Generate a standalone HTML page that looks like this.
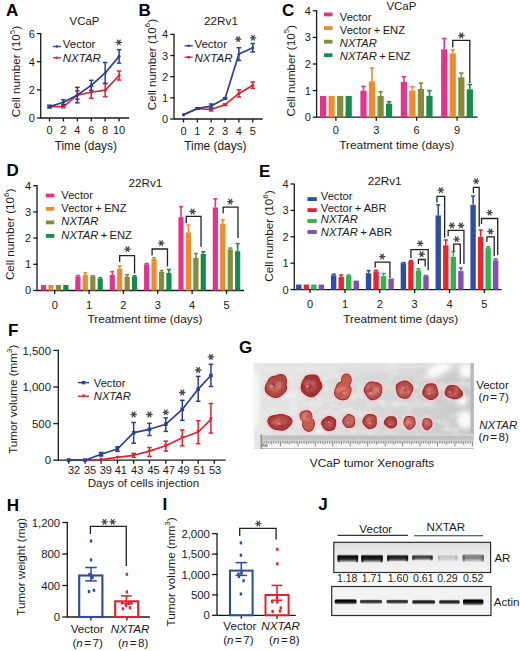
<!DOCTYPE html>
<html><head><meta charset="utf-8"><style>
html,body{margin:0;padding:0;background:#fff;}
svg{display:block;}
text{font-family:"Liberation Sans", sans-serif;}
</style></head><body>
<svg width="520" height="651" viewBox="0 0 520 651" fill="#1a1a1a">
<rect width="520" height="651" fill="#fff"/>
<text x="5.9" y="15.6" font-size="17" font-weight="bold" fill="#000">A</text>
<text x="84.5" y="24.7" font-size="11.4" text-anchor="middle">VCaP</text>
<line x1="40.7" y1="33.58" x2="40.7" y2="118" stroke="#1a1a1a" stroke-width="1.3"/>
<line x1="36.9" y1="33.58" x2="41.35" y2="33.58" stroke="#1a1a1a" stroke-width="1.3"/>
<text x="34.9" y="37.54" font-size="11" text-anchor="end">6</text>
<line x1="36.9" y1="61.72" x2="41.35" y2="61.72" stroke="#1a1a1a" stroke-width="1.3"/>
<text x="34.9" y="65.68" font-size="11" text-anchor="end">4</text>
<line x1="36.9" y1="89.86" x2="41.35" y2="89.86" stroke="#1a1a1a" stroke-width="1.3"/>
<text x="34.9" y="93.82" font-size="11" text-anchor="end">2</text>
<line x1="36.9" y1="118" x2="41.35" y2="118" stroke="#1a1a1a" stroke-width="1.3"/>
<text x="34.9" y="121.96" font-size="11" text-anchor="end">0</text>
<line x1="40.7" y1="118" x2="129.2" y2="118" stroke="#1a1a1a" stroke-width="1.3"/>
<line x1="49.5" y1="118" x2="49.5" y2="121.5" stroke="#1a1a1a" stroke-width="1.3"/>
<text x="49.5" y="133.6" font-size="11" text-anchor="middle">0</text>
<line x1="63.42" y1="118" x2="63.42" y2="121.5" stroke="#1a1a1a" stroke-width="1.3"/>
<text x="63.42" y="133.6" font-size="11" text-anchor="middle">2</text>
<line x1="77.34" y1="118" x2="77.34" y2="121.5" stroke="#1a1a1a" stroke-width="1.3"/>
<text x="77.34" y="133.6" font-size="11" text-anchor="middle">4</text>
<line x1="91.26" y1="118" x2="91.26" y2="121.5" stroke="#1a1a1a" stroke-width="1.3"/>
<text x="91.26" y="133.6" font-size="11" text-anchor="middle">6</text>
<line x1="105.18" y1="118" x2="105.18" y2="121.5" stroke="#1a1a1a" stroke-width="1.3"/>
<text x="105.18" y="133.6" font-size="11" text-anchor="middle">8</text>
<line x1="119.1" y1="118" x2="119.1" y2="121.5" stroke="#1a1a1a" stroke-width="1.3"/>
<text x="119.1" y="133.6" font-size="11" text-anchor="middle">10</text>
<text x="85.8" y="149.6" font-size="11.9" text-anchor="middle">Time (days)</text>
<text x="0" y="0" font-size="11.7" text-anchor="middle" transform="translate(20.4 71.6) rotate(-90)">Cell number (10<tspan dy="-5.3" font-size="7.8">5</tspan><tspan dy="5.3">)</tspan></text>
<polyline points="49.5,106.6 63.42,106.6 77.34,95.07 91.26,92.25 105.18,90.14 119.1,75.51" fill="none" stroke="#e0242f" stroke-width="1.7" stroke-linejoin="round"/>
<line x1="49.5" y1="107.45" x2="49.5" y2="105.76" stroke="#e0242f" stroke-width="1.5"/>
<line x1="47.2" y1="107.45" x2="51.8" y2="107.45" stroke="#e0242f" stroke-width="1.5"/>
<line x1="47.2" y1="105.76" x2="51.8" y2="105.76" stroke="#e0242f" stroke-width="1.5"/>
<circle cx="49.5" cy="106.6" r="1.5" fill="#e0242f"/>
<line x1="63.42" y1="107.73" x2="63.42" y2="105.48" stroke="#e0242f" stroke-width="1.5"/>
<line x1="61.12" y1="107.73" x2="65.72" y2="107.73" stroke="#e0242f" stroke-width="1.5"/>
<line x1="61.12" y1="105.48" x2="65.72" y2="105.48" stroke="#e0242f" stroke-width="1.5"/>
<circle cx="63.42" cy="106.6" r="1.5" fill="#e0242f"/>
<line x1="77.34" y1="99.29" x2="77.34" y2="90.84" stroke="#e0242f" stroke-width="1.5"/>
<line x1="75.04" y1="99.29" x2="79.64" y2="99.29" stroke="#e0242f" stroke-width="1.5"/>
<line x1="75.04" y1="90.84" x2="79.64" y2="90.84" stroke="#e0242f" stroke-width="1.5"/>
<circle cx="77.34" cy="95.07" r="1.5" fill="#e0242f"/>
<line x1="91.26" y1="98.16" x2="91.26" y2="86.34" stroke="#e0242f" stroke-width="1.5"/>
<line x1="88.96" y1="98.16" x2="93.56" y2="98.16" stroke="#e0242f" stroke-width="1.5"/>
<line x1="88.96" y1="86.34" x2="93.56" y2="86.34" stroke="#e0242f" stroke-width="1.5"/>
<circle cx="91.26" cy="92.25" r="1.5" fill="#e0242f"/>
<line x1="105.18" y1="96.61" x2="105.18" y2="83.67" stroke="#e0242f" stroke-width="1.5"/>
<line x1="102.88" y1="96.61" x2="107.48" y2="96.61" stroke="#e0242f" stroke-width="1.5"/>
<line x1="102.88" y1="83.67" x2="107.48" y2="83.67" stroke="#e0242f" stroke-width="1.5"/>
<circle cx="105.18" cy="90.14" r="1.5" fill="#e0242f"/>
<line x1="119.1" y1="80.01" x2="119.1" y2="71.01" stroke="#e0242f" stroke-width="1.5"/>
<line x1="116.8" y1="80.01" x2="121.4" y2="80.01" stroke="#e0242f" stroke-width="1.5"/>
<line x1="116.8" y1="71.01" x2="121.4" y2="71.01" stroke="#e0242f" stroke-width="1.5"/>
<circle cx="119.1" cy="75.51" r="1.5" fill="#e0242f"/>
<polyline points="49.5,106.6 63.42,102.24 77.34,95.07 91.26,85.36 105.18,72.98 119.1,56.37" fill="none" stroke="#2b4096" stroke-width="1.7" stroke-linejoin="round"/>
<line x1="49.5" y1="108.01" x2="49.5" y2="105.2" stroke="#2b4096" stroke-width="1.5"/>
<line x1="47.2" y1="108.01" x2="51.8" y2="108.01" stroke="#2b4096" stroke-width="1.5"/>
<line x1="47.2" y1="105.2" x2="51.8" y2="105.2" stroke="#2b4096" stroke-width="1.5"/>
<circle cx="49.5" cy="106.6" r="1.5" fill="#2b4096"/>
<line x1="63.42" y1="104.77" x2="63.42" y2="99.71" stroke="#2b4096" stroke-width="1.5"/>
<line x1="61.12" y1="104.77" x2="65.72" y2="104.77" stroke="#2b4096" stroke-width="1.5"/>
<line x1="61.12" y1="99.71" x2="65.72" y2="99.71" stroke="#2b4096" stroke-width="1.5"/>
<circle cx="63.42" cy="102.24" r="1.5" fill="#2b4096"/>
<line x1="77.34" y1="102.8" x2="77.34" y2="87.33" stroke="#2b4096" stroke-width="1.5"/>
<line x1="75.04" y1="102.8" x2="79.64" y2="102.8" stroke="#2b4096" stroke-width="1.5"/>
<line x1="75.04" y1="87.33" x2="79.64" y2="87.33" stroke="#2b4096" stroke-width="1.5"/>
<circle cx="77.34" cy="95.07" r="1.5" fill="#2b4096"/>
<line x1="91.26" y1="90.42" x2="91.26" y2="80.29" stroke="#2b4096" stroke-width="1.5"/>
<line x1="88.96" y1="90.42" x2="93.56" y2="90.42" stroke="#2b4096" stroke-width="1.5"/>
<line x1="88.96" y1="80.29" x2="93.56" y2="80.29" stroke="#2b4096" stroke-width="1.5"/>
<circle cx="91.26" cy="85.36" r="1.5" fill="#2b4096"/>
<line x1="105.18" y1="83.39" x2="105.18" y2="62.56" stroke="#2b4096" stroke-width="1.5"/>
<line x1="102.88" y1="83.39" x2="107.48" y2="83.39" stroke="#2b4096" stroke-width="1.5"/>
<line x1="102.88" y1="62.56" x2="107.48" y2="62.56" stroke="#2b4096" stroke-width="1.5"/>
<circle cx="105.18" cy="72.98" r="1.5" fill="#2b4096"/>
<line x1="119.1" y1="63.13" x2="119.1" y2="49.62" stroke="#2b4096" stroke-width="1.5"/>
<line x1="116.8" y1="63.13" x2="121.4" y2="63.13" stroke="#2b4096" stroke-width="1.5"/>
<line x1="116.8" y1="49.62" x2="121.4" y2="49.62" stroke="#2b4096" stroke-width="1.5"/>
<circle cx="119.1" cy="56.37" r="1.5" fill="#2b4096"/>
<path d="M116.1 42.4L121.5 42.4M117.45 40.06L120.15 44.74M120.15 40.06L117.45 44.74" stroke="#4a4a4a" stroke-width="1.3" stroke-linecap="round"/>
<line x1="52.9" y1="46.5" x2="61" y2="46.5" stroke="#2b4096" stroke-width="1.3"/>
<circle cx="56.9" cy="46.5" r="1.3" fill="#2b4096"/>
<text x="62.8" y="48.2" font-size="11.5">Vector</text>
<line x1="52.9" y1="57.7" x2="61" y2="57.7" stroke="#e0242f" stroke-width="1.3"/>
<ellipse cx="56.9" cy="57.7" rx="1.7" ry="1.3" fill="#e0242f"/>
<text x="62.8" y="61.5" font-size="11.5" font-style="italic">NXTAR</text>
<text x="138.6" y="15.9" font-size="17" font-weight="bold" fill="#000">B</text>
<text x="221" y="25.2" font-size="11.7" text-anchor="middle">22Rv1</text>
<line x1="174" y1="34.4" x2="174" y2="119" stroke="#1a1a1a" stroke-width="1.3"/>
<line x1="170.2" y1="34.4" x2="174.65" y2="34.4" stroke="#1a1a1a" stroke-width="1.3"/>
<text x="168.2" y="38.36" font-size="11" text-anchor="end">4</text>
<line x1="170.2" y1="55.55" x2="174.65" y2="55.55" stroke="#1a1a1a" stroke-width="1.3"/>
<text x="168.2" y="59.51" font-size="11" text-anchor="end">3</text>
<line x1="170.2" y1="76.7" x2="174.65" y2="76.7" stroke="#1a1a1a" stroke-width="1.3"/>
<text x="168.2" y="80.66" font-size="11" text-anchor="end">2</text>
<line x1="170.2" y1="97.85" x2="174.65" y2="97.85" stroke="#1a1a1a" stroke-width="1.3"/>
<text x="168.2" y="101.81" font-size="11" text-anchor="end">1</text>
<line x1="170.2" y1="119" x2="174.65" y2="119" stroke="#1a1a1a" stroke-width="1.3"/>
<text x="168.2" y="122.96" font-size="11" text-anchor="end">0</text>
<line x1="174" y1="119" x2="262.8" y2="119" stroke="#1a1a1a" stroke-width="1.3"/>
<line x1="183.5" y1="119" x2="183.5" y2="122.5" stroke="#1a1a1a" stroke-width="1.3"/>
<text x="183.5" y="135" font-size="11" text-anchor="middle">0</text>
<line x1="197.35" y1="119" x2="197.35" y2="122.5" stroke="#1a1a1a" stroke-width="1.3"/>
<text x="197.35" y="135" font-size="11" text-anchor="middle">1</text>
<line x1="211.2" y1="119" x2="211.2" y2="122.5" stroke="#1a1a1a" stroke-width="1.3"/>
<text x="211.2" y="135" font-size="11" text-anchor="middle">2</text>
<line x1="225.05" y1="119" x2="225.05" y2="122.5" stroke="#1a1a1a" stroke-width="1.3"/>
<text x="225.05" y="135" font-size="11" text-anchor="middle">3</text>
<line x1="238.9" y1="119" x2="238.9" y2="122.5" stroke="#1a1a1a" stroke-width="1.3"/>
<text x="238.9" y="135" font-size="11" text-anchor="middle">4</text>
<line x1="252.75" y1="119" x2="252.75" y2="122.5" stroke="#1a1a1a" stroke-width="1.3"/>
<text x="252.75" y="135" font-size="11" text-anchor="middle">5</text>
<text x="215.4" y="149.6" font-size="11.9" text-anchor="middle">Time (days)</text>
<text x="0" y="0" font-size="11.7" text-anchor="middle" transform="translate(155.6 64.6) rotate(-90)">Cell number (10<tspan dy="-5.3" font-size="7.8">6</tspan><tspan dy="5.3">)</tspan></text>
<polyline points="183.5,114.77 197.35,108.64 211.2,109.48 225.05,104.62 238.9,93.41 252.75,85.16" fill="none" stroke="#e0242f" stroke-width="1.7" stroke-linejoin="round"/>
<circle cx="183.5" cy="114.77" r="1.5" fill="#e0242f"/>
<line x1="197.35" y1="109.27" x2="197.35" y2="108" stroke="#e0242f" stroke-width="1.5"/>
<line x1="195.05" y1="109.27" x2="199.65" y2="109.27" stroke="#e0242f" stroke-width="1.5"/>
<line x1="195.05" y1="108" x2="199.65" y2="108" stroke="#e0242f" stroke-width="1.5"/>
<circle cx="197.35" cy="108.64" r="1.5" fill="#e0242f"/>
<line x1="211.2" y1="110.96" x2="211.2" y2="108" stroke="#e0242f" stroke-width="1.5"/>
<line x1="208.9" y1="110.96" x2="213.5" y2="110.96" stroke="#e0242f" stroke-width="1.5"/>
<line x1="208.9" y1="108" x2="213.5" y2="108" stroke="#e0242f" stroke-width="1.5"/>
<circle cx="211.2" cy="109.48" r="1.5" fill="#e0242f"/>
<line x1="225.05" y1="105.46" x2="225.05" y2="103.77" stroke="#e0242f" stroke-width="1.5"/>
<line x1="222.75" y1="105.46" x2="227.35" y2="105.46" stroke="#e0242f" stroke-width="1.5"/>
<line x1="222.75" y1="103.77" x2="227.35" y2="103.77" stroke="#e0242f" stroke-width="1.5"/>
<circle cx="225.05" cy="104.62" r="1.5" fill="#e0242f"/>
<line x1="238.9" y1="97" x2="238.9" y2="89.81" stroke="#e0242f" stroke-width="1.5"/>
<line x1="236.6" y1="97" x2="241.2" y2="97" stroke="#e0242f" stroke-width="1.5"/>
<line x1="236.6" y1="89.81" x2="241.2" y2="89.81" stroke="#e0242f" stroke-width="1.5"/>
<circle cx="238.9" cy="93.41" r="1.5" fill="#e0242f"/>
<line x1="252.75" y1="88.33" x2="252.75" y2="81.99" stroke="#e0242f" stroke-width="1.5"/>
<line x1="250.45" y1="88.33" x2="255.05" y2="88.33" stroke="#e0242f" stroke-width="1.5"/>
<line x1="250.45" y1="81.99" x2="255.05" y2="81.99" stroke="#e0242f" stroke-width="1.5"/>
<circle cx="252.75" cy="85.16" r="1.5" fill="#e0242f"/>
<polyline points="183.5,114.77 197.35,108.42 211.2,106.1 225.05,98.48 238.9,54.07 252.75,47.72" fill="none" stroke="#2b4096" stroke-width="1.7" stroke-linejoin="round"/>
<circle cx="183.5" cy="114.77" r="1.5" fill="#2b4096"/>
<line x1="197.35" y1="109.06" x2="197.35" y2="107.79" stroke="#2b4096" stroke-width="1.5"/>
<line x1="195.05" y1="109.06" x2="199.65" y2="109.06" stroke="#2b4096" stroke-width="1.5"/>
<line x1="195.05" y1="107.79" x2="199.65" y2="107.79" stroke="#2b4096" stroke-width="1.5"/>
<circle cx="197.35" cy="108.42" r="1.5" fill="#2b4096"/>
<line x1="211.2" y1="108.21" x2="211.2" y2="103.98" stroke="#2b4096" stroke-width="1.5"/>
<line x1="208.9" y1="108.21" x2="213.5" y2="108.21" stroke="#2b4096" stroke-width="1.5"/>
<line x1="208.9" y1="103.98" x2="213.5" y2="103.98" stroke="#2b4096" stroke-width="1.5"/>
<circle cx="211.2" cy="106.1" r="1.5" fill="#2b4096"/>
<line x1="225.05" y1="99.33" x2="225.05" y2="97.64" stroke="#2b4096" stroke-width="1.5"/>
<line x1="222.75" y1="99.33" x2="227.35" y2="99.33" stroke="#2b4096" stroke-width="1.5"/>
<line x1="222.75" y1="97.64" x2="227.35" y2="97.64" stroke="#2b4096" stroke-width="1.5"/>
<circle cx="225.05" cy="98.48" r="1.5" fill="#2b4096"/>
<line x1="238.9" y1="60.41" x2="238.9" y2="47.72" stroke="#2b4096" stroke-width="1.5"/>
<line x1="236.6" y1="60.41" x2="241.2" y2="60.41" stroke="#2b4096" stroke-width="1.5"/>
<line x1="236.6" y1="47.72" x2="241.2" y2="47.72" stroke="#2b4096" stroke-width="1.5"/>
<circle cx="238.9" cy="54.07" r="1.5" fill="#2b4096"/>
<line x1="252.75" y1="51.95" x2="252.75" y2="43.49" stroke="#2b4096" stroke-width="1.5"/>
<line x1="250.45" y1="51.95" x2="255.05" y2="51.95" stroke="#2b4096" stroke-width="1.5"/>
<line x1="250.45" y1="43.49" x2="255.05" y2="43.49" stroke="#2b4096" stroke-width="1.5"/>
<circle cx="252.75" cy="47.72" r="1.5" fill="#2b4096"/>
<path d="M235.5 39.2L240.9 39.2M236.85 36.86L239.55 41.54M239.55 36.86L236.85 41.54" stroke="#4a4a4a" stroke-width="1.3" stroke-linecap="round"/>
<path d="M250.4 37.8L255.8 37.8M251.75 35.46L254.45 40.14M254.45 35.46L251.75 40.14" stroke="#4a4a4a" stroke-width="1.3" stroke-linecap="round"/>
<line x1="184.6" y1="45.8" x2="192.7" y2="45.8" stroke="#2b4096" stroke-width="1.3"/>
<circle cx="188.6" cy="45.8" r="1.3" fill="#2b4096"/>
<text x="194.4" y="48.2" font-size="11.5">Vector</text>
<line x1="184.6" y1="57.2" x2="192.7" y2="57.2" stroke="#e0242f" stroke-width="1.3"/>
<ellipse cx="188.6" cy="57.2" rx="1.7" ry="1.3" fill="#e0242f"/>
<text x="194.4" y="61.7" font-size="11.5" font-style="italic">NXTAR</text>
<text x="282" y="15.9" font-size="17" font-weight="bold" fill="#000">C</text>
<text x="401.4" y="10" font-size="11.5" text-anchor="middle">VCaP</text>
<line x1="316.6" y1="10.8" x2="316.6" y2="117.2" stroke="#1a1a1a" stroke-width="1.3"/>
<line x1="312.8" y1="10.8" x2="317.25" y2="10.8" stroke="#1a1a1a" stroke-width="1.3"/>
<text x="310.8" y="14.76" font-size="11" text-anchor="end">4</text>
<line x1="312.8" y1="37.4" x2="317.25" y2="37.4" stroke="#1a1a1a" stroke-width="1.3"/>
<text x="310.8" y="41.36" font-size="11" text-anchor="end">3</text>
<line x1="312.8" y1="64" x2="317.25" y2="64" stroke="#1a1a1a" stroke-width="1.3"/>
<text x="310.8" y="67.96" font-size="11" text-anchor="end">2</text>
<line x1="312.8" y1="90.6" x2="317.25" y2="90.6" stroke="#1a1a1a" stroke-width="1.3"/>
<text x="310.8" y="94.56" font-size="11" text-anchor="end">1</text>
<line x1="312.8" y1="117.2" x2="317.25" y2="117.2" stroke="#1a1a1a" stroke-width="1.3"/>
<text x="310.8" y="121.16" font-size="11" text-anchor="end">0</text>
<line x1="316.6" y1="117.2" x2="477.5" y2="117.2" stroke="#1a1a1a" stroke-width="1.3"/>
<line x1="335.9" y1="117.2" x2="335.9" y2="120.7" stroke="#1a1a1a" stroke-width="1.3"/>
<text x="335.9" y="134.3" font-size="11" text-anchor="middle">0</text>
<line x1="376.28" y1="117.2" x2="376.28" y2="120.7" stroke="#1a1a1a" stroke-width="1.3"/>
<text x="376.28" y="134.3" font-size="11" text-anchor="middle">3</text>
<line x1="416.66" y1="117.2" x2="416.66" y2="120.7" stroke="#1a1a1a" stroke-width="1.3"/>
<text x="416.66" y="134.3" font-size="11" text-anchor="middle">6</text>
<line x1="457.04" y1="117.2" x2="457.04" y2="120.7" stroke="#1a1a1a" stroke-width="1.3"/>
<text x="457.04" y="134.3" font-size="11" text-anchor="middle">9</text>
<text x="396.8" y="149" font-size="11.8" text-anchor="middle">Treatment time (days)</text>
<text x="0" y="0" font-size="11.7" text-anchor="middle" transform="translate(294.6 70.8) rotate(-90)">Cell number (10<tspan dy="-5.3" font-size="7.8">5</tspan><tspan dy="5.3">)</tspan></text>
<rect x="320" y="95.92" width="6.2" height="21.28" fill="#e5338c"/>
<rect x="328.5" y="95.92" width="6.2" height="21.28" fill="#f08a2c"/>
<rect x="337.1" y="95.92" width="6.2" height="21.28" fill="#848b3c"/>
<rect x="345.6" y="95.92" width="6.2" height="21.28" fill="#178b4d"/>
<rect x="360.38" y="90.6" width="6.2" height="26.6" fill="#e5338c"/>
<line x1="363.48" y1="90.6" x2="363.48" y2="86.34" stroke="#e5338c" stroke-width="1.6"/>
<line x1="361.28" y1="86.34" x2="365.68" y2="86.34" stroke="#e5338c" stroke-width="1.6"/>
<rect x="368.88" y="81.29" width="6.2" height="35.91" fill="#f08a2c"/>
<line x1="371.98" y1="81.29" x2="371.98" y2="67.99" stroke="#f08a2c" stroke-width="1.6"/>
<line x1="369.78" y1="67.99" x2="374.18" y2="67.99" stroke="#f08a2c" stroke-width="1.6"/>
<rect x="377.48" y="95.92" width="6.2" height="21.28" fill="#848b3c"/>
<line x1="380.58" y1="95.92" x2="380.58" y2="91.66" stroke="#848b3c" stroke-width="1.6"/>
<line x1="378.38" y1="91.66" x2="382.78" y2="91.66" stroke="#848b3c" stroke-width="1.6"/>
<rect x="385.98" y="103.63" width="6.2" height="13.57" fill="#178b4d"/>
<line x1="389.08" y1="103.63" x2="389.08" y2="101.77" stroke="#178b4d" stroke-width="1.6"/>
<line x1="386.88" y1="101.77" x2="391.28" y2="101.77" stroke="#178b4d" stroke-width="1.6"/>
<rect x="400.76" y="81.82" width="6.2" height="35.38" fill="#e5338c"/>
<line x1="403.86" y1="81.82" x2="403.86" y2="76.77" stroke="#e5338c" stroke-width="1.6"/>
<line x1="401.66" y1="76.77" x2="406.06" y2="76.77" stroke="#e5338c" stroke-width="1.6"/>
<rect x="409.26" y="90.6" width="6.2" height="26.6" fill="#f08a2c"/>
<line x1="412.36" y1="90.6" x2="412.36" y2="86.61" stroke="#f08a2c" stroke-width="1.6"/>
<line x1="410.16" y1="86.61" x2="414.56" y2="86.61" stroke="#f08a2c" stroke-width="1.6"/>
<rect x="417.86" y="89" width="6.2" height="28.2" fill="#848b3c"/>
<line x1="420.96" y1="89" x2="420.96" y2="83.15" stroke="#848b3c" stroke-width="1.6"/>
<line x1="418.76" y1="83.15" x2="423.16" y2="83.15" stroke="#848b3c" stroke-width="1.6"/>
<rect x="426.36" y="95.92" width="6.2" height="21.28" fill="#178b4d"/>
<line x1="429.46" y1="95.92" x2="429.46" y2="90.6" stroke="#178b4d" stroke-width="1.6"/>
<line x1="427.26" y1="90.6" x2="431.66" y2="90.6" stroke="#178b4d" stroke-width="1.6"/>
<rect x="441.14" y="49.37" width="6.2" height="67.83" fill="#e5338c"/>
<line x1="444.24" y1="49.37" x2="444.24" y2="38.46" stroke="#e5338c" stroke-width="1.6"/>
<line x1="442.04" y1="38.46" x2="446.44" y2="38.46" stroke="#e5338c" stroke-width="1.6"/>
<rect x="449.64" y="53.36" width="6.2" height="63.84" fill="#f08a2c"/>
<line x1="452.74" y1="53.36" x2="452.74" y2="49.9" stroke="#f08a2c" stroke-width="1.6"/>
<line x1="450.54" y1="49.9" x2="454.94" y2="49.9" stroke="#f08a2c" stroke-width="1.6"/>
<rect x="458.24" y="77.3" width="6.2" height="39.9" fill="#848b3c"/>
<line x1="461.34" y1="77.3" x2="461.34" y2="73.04" stroke="#848b3c" stroke-width="1.6"/>
<line x1="459.14" y1="73.04" x2="463.54" y2="73.04" stroke="#848b3c" stroke-width="1.6"/>
<rect x="466.74" y="89.27" width="6.2" height="27.93" fill="#178b4d"/>
<line x1="469.84" y1="89.27" x2="469.84" y2="84.48" stroke="#178b4d" stroke-width="1.6"/>
<line x1="467.64" y1="84.48" x2="472.04" y2="84.48" stroke="#178b4d" stroke-width="1.6"/>
<polyline points="452.74,47.5 452.74,40.3 469.84,40.3 469.84,83" fill="none" stroke="#222" stroke-width="1.3"/>
<path d="M458.64 35.5L464.04 35.5M459.99 33.16L462.69 37.84M462.69 33.16L459.99 37.84" stroke="#4a4a4a" stroke-width="1.3" stroke-linecap="round"/>
<rect x="324" y="12.5" width="8.5" height="3.8" fill="#e5338c"/>
<text x="339.8" y="21.2" font-size="11.2">Vector</text>
<rect x="324" y="26.2" width="8.5" height="3.8" fill="#f08a2c"/>
<text x="339.8" y="34" font-size="11.2">Vector<tspan dx="2.3">+</tspan><tspan dx="2.3">ENZ</tspan></text>
<rect x="324" y="39.8" width="8.5" height="3.8" fill="#848b3c"/>
<text x="339.8" y="46.8" font-size="11.2"><tspan font-style="italic">NXTAR</tspan></text>
<rect x="324" y="53.3" width="8.5" height="3.8" fill="#178b4d"/>
<text x="339.8" y="59.6" font-size="11.2"><tspan font-style="italic">NXTAR</tspan><tspan dx="2.3">+</tspan><tspan dx="2.3">ENZ</tspan></text>
<text x="6.4" y="176.4" font-size="17" font-weight="bold" fill="#000">D</text>
<text x="145.4" y="187.2" font-size="11.7" text-anchor="middle">22Rv1</text>
<line x1="37" y1="185.7" x2="37" y2="290.5" stroke="#1a1a1a" stroke-width="1.3"/>
<line x1="33.2" y1="185.7" x2="37.65" y2="185.7" stroke="#1a1a1a" stroke-width="1.3"/>
<text x="31.2" y="189.66" font-size="11" text-anchor="end">4</text>
<line x1="33.2" y1="211.9" x2="37.65" y2="211.9" stroke="#1a1a1a" stroke-width="1.3"/>
<text x="31.2" y="215.86" font-size="11" text-anchor="end">3</text>
<line x1="33.2" y1="238.1" x2="37.65" y2="238.1" stroke="#1a1a1a" stroke-width="1.3"/>
<text x="31.2" y="242.06" font-size="11" text-anchor="end">2</text>
<line x1="33.2" y1="264.3" x2="37.65" y2="264.3" stroke="#1a1a1a" stroke-width="1.3"/>
<text x="31.2" y="268.26" font-size="11" text-anchor="end">1</text>
<line x1="33.2" y1="290.5" x2="37.65" y2="290.5" stroke="#1a1a1a" stroke-width="1.3"/>
<text x="31.2" y="294.46" font-size="11" text-anchor="end">0</text>
<line x1="37" y1="290.5" x2="244" y2="290.5" stroke="#1a1a1a" stroke-width="1.3"/>
<line x1="54.7" y1="290.5" x2="54.7" y2="294" stroke="#1a1a1a" stroke-width="1.3"/>
<text x="54.7" y="308.8" font-size="11" text-anchor="middle">0</text>
<line x1="89.06" y1="290.5" x2="89.06" y2="294" stroke="#1a1a1a" stroke-width="1.3"/>
<text x="89.06" y="308.8" font-size="11" text-anchor="middle">1</text>
<line x1="123.42" y1="290.5" x2="123.42" y2="294" stroke="#1a1a1a" stroke-width="1.3"/>
<text x="123.42" y="308.8" font-size="11" text-anchor="middle">2</text>
<line x1="157.78" y1="290.5" x2="157.78" y2="294" stroke="#1a1a1a" stroke-width="1.3"/>
<text x="157.78" y="308.8" font-size="11" text-anchor="middle">3</text>
<line x1="192.14" y1="290.5" x2="192.14" y2="294" stroke="#1a1a1a" stroke-width="1.3"/>
<text x="192.14" y="308.8" font-size="11" text-anchor="middle">4</text>
<line x1="226.5" y1="290.5" x2="226.5" y2="294" stroke="#1a1a1a" stroke-width="1.3"/>
<text x="226.5" y="308.8" font-size="11" text-anchor="middle">5</text>
<text x="145" y="322.8" font-size="11.8" text-anchor="middle">Treatment time (days)</text>
<text x="0" y="0" font-size="11.7" text-anchor="middle" transform="translate(14.2 234.4) rotate(-90)">Cell number (10<tspan dy="-5.3" font-size="7.8">6</tspan><tspan dy="5.3">)</tspan></text>
<rect x="40.95" y="285" width="5.2" height="5.5" fill="#e5338c"/>
<rect x="48.35" y="285" width="5.2" height="5.5" fill="#f08a2c"/>
<rect x="55.85" y="285" width="5.2" height="5.5" fill="#848b3c"/>
<rect x="63.25" y="285" width="5.2" height="5.5" fill="#178b4d"/>
<rect x="75.31" y="276.35" width="5.2" height="14.15" fill="#e5338c"/>
<line x1="77.91" y1="276.35" x2="77.91" y2="275.57" stroke="#e5338c" stroke-width="1.6"/>
<line x1="75.91" y1="275.57" x2="79.91" y2="275.57" stroke="#e5338c" stroke-width="1.6"/>
<rect x="82.71" y="275.04" width="5.2" height="15.46" fill="#f08a2c"/>
<line x1="85.31" y1="275.04" x2="85.31" y2="272.68" stroke="#f08a2c" stroke-width="1.6"/>
<line x1="83.31" y1="272.68" x2="87.31" y2="272.68" stroke="#f08a2c" stroke-width="1.6"/>
<rect x="90.21" y="276.35" width="5.2" height="14.15" fill="#848b3c"/>
<line x1="92.81" y1="276.35" x2="92.81" y2="275.83" stroke="#848b3c" stroke-width="1.6"/>
<line x1="90.81" y1="275.83" x2="94.81" y2="275.83" stroke="#848b3c" stroke-width="1.6"/>
<rect x="97.61" y="278.71" width="5.2" height="11.79" fill="#178b4d"/>
<line x1="100.21" y1="278.71" x2="100.21" y2="277.66" stroke="#178b4d" stroke-width="1.6"/>
<line x1="98.21" y1="277.66" x2="102.21" y2="277.66" stroke="#178b4d" stroke-width="1.6"/>
<rect x="109.67" y="275.04" width="5.2" height="15.46" fill="#e5338c"/>
<line x1="112.27" y1="275.04" x2="112.27" y2="271.64" stroke="#e5338c" stroke-width="1.6"/>
<line x1="110.27" y1="271.64" x2="114.27" y2="271.64" stroke="#e5338c" stroke-width="1.6"/>
<rect x="117.07" y="268.75" width="5.2" height="21.75" fill="#f08a2c"/>
<line x1="119.67" y1="268.75" x2="119.67" y2="265.87" stroke="#f08a2c" stroke-width="1.6"/>
<line x1="117.67" y1="265.87" x2="121.67" y2="265.87" stroke="#f08a2c" stroke-width="1.6"/>
<rect x="124.57" y="276.88" width="5.2" height="13.62" fill="#848b3c"/>
<line x1="127.17" y1="276.88" x2="127.17" y2="274.78" stroke="#848b3c" stroke-width="1.6"/>
<line x1="125.17" y1="274.78" x2="129.17" y2="274.78" stroke="#848b3c" stroke-width="1.6"/>
<rect x="131.97" y="276.61" width="5.2" height="13.89" fill="#178b4d"/>
<line x1="134.57" y1="276.61" x2="134.57" y2="275.83" stroke="#178b4d" stroke-width="1.6"/>
<line x1="132.57" y1="275.83" x2="136.57" y2="275.83" stroke="#178b4d" stroke-width="1.6"/>
<rect x="144.03" y="264.3" width="5.2" height="26.2" fill="#e5338c"/>
<line x1="146.63" y1="264.3" x2="146.63" y2="263.51" stroke="#e5338c" stroke-width="1.6"/>
<line x1="144.63" y1="263.51" x2="148.63" y2="263.51" stroke="#e5338c" stroke-width="1.6"/>
<rect x="151.43" y="259.06" width="5.2" height="31.44" fill="#f08a2c"/>
<line x1="154.03" y1="259.06" x2="154.03" y2="257.75" stroke="#f08a2c" stroke-width="1.6"/>
<line x1="152.03" y1="257.75" x2="156.03" y2="257.75" stroke="#f08a2c" stroke-width="1.6"/>
<rect x="158.93" y="271.9" width="5.2" height="18.6" fill="#848b3c"/>
<line x1="161.53" y1="271.9" x2="161.53" y2="270.59" stroke="#848b3c" stroke-width="1.6"/>
<line x1="159.53" y1="270.59" x2="163.53" y2="270.59" stroke="#848b3c" stroke-width="1.6"/>
<rect x="166.33" y="272.95" width="5.2" height="17.55" fill="#178b4d"/>
<line x1="168.93" y1="272.95" x2="168.93" y2="269.54" stroke="#178b4d" stroke-width="1.6"/>
<line x1="166.93" y1="269.54" x2="170.93" y2="269.54" stroke="#178b4d" stroke-width="1.6"/>
<rect x="178.39" y="217.14" width="5.2" height="73.36" fill="#e5338c"/>
<line x1="180.99" y1="217.14" x2="180.99" y2="206.66" stroke="#e5338c" stroke-width="1.6"/>
<line x1="178.99" y1="206.66" x2="182.99" y2="206.66" stroke="#e5338c" stroke-width="1.6"/>
<rect x="185.79" y="232.34" width="5.2" height="58.16" fill="#f08a2c"/>
<line x1="188.39" y1="232.34" x2="188.39" y2="225" stroke="#f08a2c" stroke-width="1.6"/>
<line x1="186.39" y1="225" x2="190.39" y2="225" stroke="#f08a2c" stroke-width="1.6"/>
<rect x="193.29" y="258.01" width="5.2" height="32.49" fill="#848b3c"/>
<line x1="195.89" y1="258.01" x2="195.89" y2="253.56" stroke="#848b3c" stroke-width="1.6"/>
<line x1="193.89" y1="253.56" x2="197.89" y2="253.56" stroke="#848b3c" stroke-width="1.6"/>
<rect x="200.69" y="253.82" width="5.2" height="36.68" fill="#178b4d"/>
<line x1="203.29" y1="253.82" x2="203.29" y2="251.72" stroke="#178b4d" stroke-width="1.6"/>
<line x1="201.29" y1="251.72" x2="205.29" y2="251.72" stroke="#178b4d" stroke-width="1.6"/>
<rect x="212.75" y="207.45" width="5.2" height="83.05" fill="#e5338c"/>
<line x1="215.35" y1="207.45" x2="215.35" y2="198.8" stroke="#e5338c" stroke-width="1.6"/>
<line x1="213.35" y1="198.8" x2="217.35" y2="198.8" stroke="#e5338c" stroke-width="1.6"/>
<rect x="220.15" y="223.69" width="5.2" height="66.81" fill="#f08a2c"/>
<line x1="222.75" y1="223.69" x2="222.75" y2="219.76" stroke="#f08a2c" stroke-width="1.6"/>
<line x1="220.75" y1="219.76" x2="224.75" y2="219.76" stroke="#f08a2c" stroke-width="1.6"/>
<rect x="227.65" y="249.37" width="5.2" height="41.13" fill="#848b3c"/>
<line x1="230.25" y1="249.37" x2="230.25" y2="248.06" stroke="#848b3c" stroke-width="1.6"/>
<line x1="228.25" y1="248.06" x2="232.25" y2="248.06" stroke="#848b3c" stroke-width="1.6"/>
<rect x="235.05" y="251.2" width="5.2" height="39.3" fill="#178b4d"/>
<line x1="237.65" y1="251.2" x2="237.65" y2="243.6" stroke="#178b4d" stroke-width="1.6"/>
<line x1="235.65" y1="243.6" x2="239.65" y2="243.6" stroke="#178b4d" stroke-width="1.6"/>
<polyline points="119.67,262 119.67,255.7 134.57,255.7 134.57,273.5" fill="none" stroke="#222" stroke-width="1.3"/>
<path d="M124.8 249.2L130.2 249.2M126.15 246.86L128.85 251.54M128.85 246.86L126.15 251.54" stroke="#4a4a4a" stroke-width="1.3" stroke-linecap="round"/>
<polyline points="152.08,255.6 152.08,249 167.48,249 167.48,266.5" fill="none" stroke="#222" stroke-width="1.3"/>
<path d="M158.5 243.2L163.9 243.2M159.85 240.86L162.55 245.54M162.55 240.86L159.85 245.54" stroke="#4a4a4a" stroke-width="1.3" stroke-linecap="round"/>
<polyline points="186.24,223.3 186.24,216.3 201.04,216.3 201.04,246.8" fill="none" stroke="#222" stroke-width="1.3"/>
<path d="M189.9 211.5L195.3 211.5M191.25 209.16L193.95 213.84M193.95 209.16L191.25 213.84" stroke="#4a4a4a" stroke-width="1.3" stroke-linecap="round"/>
<polyline points="223.2,213.2 223.2,207.1 238,207.1 238,238.1" fill="none" stroke="#222" stroke-width="1.3"/>
<path d="M227.6 201.7L233 201.7M228.95 199.36L231.65 204.04M231.65 199.36L228.95 204.04" stroke="#4a4a4a" stroke-width="1.3" stroke-linecap="round"/>
<rect x="45.8" y="193.6" width="8.5" height="3.8" fill="#e5338c"/>
<text x="61.3" y="198.5" font-size="11.2">Vector</text>
<rect x="45.8" y="206.9" width="8.5" height="3.8" fill="#f08a2c"/>
<text x="61.3" y="211.9" font-size="11.2">Vector<tspan dx="2.3">+</tspan><tspan dx="2.3">ENZ</tspan></text>
<rect x="45.8" y="220.5" width="8.5" height="3.8" fill="#848b3c"/>
<text x="61.3" y="225.2" font-size="11.2"><tspan font-style="italic">NXTAR</tspan></text>
<rect x="45.8" y="234" width="8.5" height="3.8" fill="#178b4d"/>
<text x="61.3" y="238.7" font-size="11.2"><tspan font-style="italic">NXTAR</tspan><tspan dx="2.3">+</tspan><tspan dx="2.3">ENZ</tspan></text>
<text x="259.1" y="177" font-size="17" font-weight="bold" fill="#000">E</text>
<text x="384.6" y="185" font-size="11.7" text-anchor="middle">22Rv1</text>
<line x1="294.3" y1="184" x2="294.3" y2="289.6" stroke="#1a1a1a" stroke-width="1.3"/>
<line x1="290.5" y1="184" x2="294.95" y2="184" stroke="#1a1a1a" stroke-width="1.3"/>
<text x="288.5" y="187.96" font-size="11" text-anchor="end">4</text>
<line x1="290.5" y1="210.4" x2="294.95" y2="210.4" stroke="#1a1a1a" stroke-width="1.3"/>
<text x="288.5" y="214.36" font-size="11" text-anchor="end">3</text>
<line x1="290.5" y1="236.8" x2="294.95" y2="236.8" stroke="#1a1a1a" stroke-width="1.3"/>
<text x="288.5" y="240.76" font-size="11" text-anchor="end">2</text>
<line x1="290.5" y1="263.2" x2="294.95" y2="263.2" stroke="#1a1a1a" stroke-width="1.3"/>
<text x="288.5" y="267.16" font-size="11" text-anchor="end">1</text>
<line x1="290.5" y1="289.6" x2="294.95" y2="289.6" stroke="#1a1a1a" stroke-width="1.3"/>
<text x="288.5" y="293.56" font-size="11" text-anchor="end">0</text>
<line x1="294.3" y1="289.6" x2="501.5" y2="289.6" stroke="#1a1a1a" stroke-width="1.3"/>
<line x1="310.1" y1="289.6" x2="310.1" y2="293.1" stroke="#1a1a1a" stroke-width="1.3"/>
<text x="310.1" y="307.8" font-size="11" text-anchor="middle">0</text>
<line x1="344.96" y1="289.6" x2="344.96" y2="293.1" stroke="#1a1a1a" stroke-width="1.3"/>
<text x="344.96" y="307.8" font-size="11" text-anchor="middle">1</text>
<line x1="379.82" y1="289.6" x2="379.82" y2="293.1" stroke="#1a1a1a" stroke-width="1.3"/>
<text x="379.82" y="307.8" font-size="11" text-anchor="middle">2</text>
<line x1="414.68" y1="289.6" x2="414.68" y2="293.1" stroke="#1a1a1a" stroke-width="1.3"/>
<text x="414.68" y="307.8" font-size="11" text-anchor="middle">3</text>
<line x1="449.54" y1="289.6" x2="449.54" y2="293.1" stroke="#1a1a1a" stroke-width="1.3"/>
<text x="449.54" y="307.8" font-size="11" text-anchor="middle">4</text>
<line x1="484.4" y1="289.6" x2="484.4" y2="293.1" stroke="#1a1a1a" stroke-width="1.3"/>
<text x="484.4" y="307.8" font-size="11" text-anchor="middle">5</text>
<text x="400.7" y="322.6" font-size="11.8" text-anchor="middle">Treatment time (days)</text>
<text x="0" y="0" font-size="11.7" text-anchor="middle" transform="translate(273 236.1) rotate(-90)">Cell number (10<tspan dy="-5.3" font-size="7.8">6</tspan><tspan dy="5.3">)</tspan></text>
<rect x="296.1" y="284.58" width="5.4" height="5.02" fill="#2e4ea6"/>
<rect x="303.65" y="284.58" width="5.4" height="5.02" fill="#e8242e"/>
<rect x="311.15" y="284.58" width="5.4" height="5.02" fill="#34b24c"/>
<rect x="318.7" y="284.58" width="5.4" height="5.02" fill="#8052b0"/>
<rect x="330.96" y="275.34" width="5.4" height="14.26" fill="#2e4ea6"/>
<line x1="333.66" y1="275.34" x2="333.66" y2="274.29" stroke="#2e4ea6" stroke-width="1.6"/>
<line x1="331.66" y1="274.29" x2="335.66" y2="274.29" stroke="#2e4ea6" stroke-width="1.6"/>
<rect x="338.51" y="276.66" width="5.4" height="12.94" fill="#e8242e"/>
<line x1="341.21" y1="276.66" x2="341.21" y2="275.08" stroke="#e8242e" stroke-width="1.6"/>
<line x1="339.21" y1="275.08" x2="343.21" y2="275.08" stroke="#e8242e" stroke-width="1.6"/>
<rect x="346.01" y="275.61" width="5.4" height="13.99" fill="#34b24c"/>
<line x1="348.71" y1="275.61" x2="348.71" y2="275.08" stroke="#34b24c" stroke-width="1.6"/>
<line x1="346.71" y1="275.08" x2="350.71" y2="275.08" stroke="#34b24c" stroke-width="1.6"/>
<rect x="353.56" y="280.62" width="5.4" height="8.98" fill="#8052b0"/>
<rect x="365.82" y="273.23" width="5.4" height="16.37" fill="#2e4ea6"/>
<line x1="368.52" y1="273.23" x2="368.52" y2="270.59" stroke="#2e4ea6" stroke-width="1.6"/>
<line x1="366.52" y1="270.59" x2="370.52" y2="270.59" stroke="#2e4ea6" stroke-width="1.6"/>
<rect x="373.37" y="271.38" width="5.4" height="18.22" fill="#e8242e"/>
<line x1="376.07" y1="271.38" x2="376.07" y2="270.33" stroke="#e8242e" stroke-width="1.6"/>
<line x1="374.07" y1="270.33" x2="378.07" y2="270.33" stroke="#e8242e" stroke-width="1.6"/>
<rect x="380.87" y="276.14" width="5.4" height="13.46" fill="#34b24c"/>
<line x1="383.57" y1="276.14" x2="383.57" y2="273.5" stroke="#34b24c" stroke-width="1.6"/>
<line x1="381.57" y1="273.5" x2="385.57" y2="273.5" stroke="#34b24c" stroke-width="1.6"/>
<rect x="388.42" y="278.51" width="5.4" height="11.09" fill="#8052b0"/>
<rect x="400.68" y="263.2" width="5.4" height="26.4" fill="#2e4ea6"/>
<line x1="403.38" y1="263.2" x2="403.38" y2="262.67" stroke="#2e4ea6" stroke-width="1.6"/>
<line x1="401.38" y1="262.67" x2="405.38" y2="262.67" stroke="#2e4ea6" stroke-width="1.6"/>
<rect x="408.23" y="261.09" width="5.4" height="28.51" fill="#e8242e"/>
<line x1="410.93" y1="261.09" x2="410.93" y2="260.56" stroke="#e8242e" stroke-width="1.6"/>
<line x1="408.93" y1="260.56" x2="412.93" y2="260.56" stroke="#e8242e" stroke-width="1.6"/>
<rect x="415.73" y="270.33" width="5.4" height="19.27" fill="#34b24c"/>
<line x1="418.43" y1="270.33" x2="418.43" y2="268.74" stroke="#34b24c" stroke-width="1.6"/>
<line x1="416.43" y1="268.74" x2="420.43" y2="268.74" stroke="#34b24c" stroke-width="1.6"/>
<rect x="423.28" y="276.14" width="5.4" height="13.46" fill="#8052b0"/>
<line x1="425.98" y1="276.14" x2="425.98" y2="275.61" stroke="#8052b0" stroke-width="1.6"/>
<line x1="423.98" y1="275.61" x2="427.98" y2="275.61" stroke="#8052b0" stroke-width="1.6"/>
<rect x="435.54" y="215.42" width="5.4" height="74.18" fill="#2e4ea6"/>
<line x1="438.24" y1="215.42" x2="438.24" y2="204.86" stroke="#2e4ea6" stroke-width="1.6"/>
<line x1="436.24" y1="204.86" x2="440.24" y2="204.86" stroke="#2e4ea6" stroke-width="1.6"/>
<rect x="443.09" y="245.25" width="5.4" height="44.35" fill="#e8242e"/>
<line x1="445.79" y1="245.25" x2="445.79" y2="239.97" stroke="#e8242e" stroke-width="1.6"/>
<line x1="443.79" y1="239.97" x2="447.79" y2="239.97" stroke="#e8242e" stroke-width="1.6"/>
<rect x="450.59" y="256.86" width="5.4" height="32.74" fill="#34b24c"/>
<line x1="453.29" y1="256.86" x2="453.29" y2="251.58" stroke="#34b24c" stroke-width="1.6"/>
<line x1="451.29" y1="251.58" x2="455.29" y2="251.58" stroke="#34b24c" stroke-width="1.6"/>
<rect x="458.14" y="271.12" width="5.4" height="18.48" fill="#8052b0"/>
<line x1="460.84" y1="271.12" x2="460.84" y2="267.95" stroke="#8052b0" stroke-width="1.6"/>
<line x1="458.84" y1="267.95" x2="462.84" y2="267.95" stroke="#8052b0" stroke-width="1.6"/>
<rect x="470.4" y="204.86" width="5.4" height="84.74" fill="#2e4ea6"/>
<line x1="473.1" y1="204.86" x2="473.1" y2="196.14" stroke="#2e4ea6" stroke-width="1.6"/>
<line x1="471.1" y1="196.14" x2="475.1" y2="196.14" stroke="#2e4ea6" stroke-width="1.6"/>
<rect x="477.95" y="236.8" width="5.4" height="52.8" fill="#e8242e"/>
<line x1="480.65" y1="236.8" x2="480.65" y2="229.94" stroke="#e8242e" stroke-width="1.6"/>
<line x1="478.65" y1="229.94" x2="482.65" y2="229.94" stroke="#e8242e" stroke-width="1.6"/>
<rect x="485.45" y="248.15" width="5.4" height="41.45" fill="#34b24c"/>
<line x1="488.15" y1="248.15" x2="488.15" y2="246.83" stroke="#34b24c" stroke-width="1.6"/>
<line x1="486.15" y1="246.83" x2="490.15" y2="246.83" stroke="#34b24c" stroke-width="1.6"/>
<rect x="493" y="260.3" width="5.4" height="29.3" fill="#8052b0"/>
<line x1="495.7" y1="260.3" x2="495.7" y2="258.98" stroke="#8052b0" stroke-width="1.6"/>
<line x1="493.7" y1="258.98" x2="497.7" y2="258.98" stroke="#8052b0" stroke-width="1.6"/>
<polyline points="375.22,267.5 375.22,262.1 389.92,262.1 389.92,277.9" fill="none" stroke="#222" stroke-width="1.3"/>
<path d="M379.52 256.6L384.92 256.6M380.87 254.26L383.57 258.94M383.57 254.26L380.87 258.94" stroke="#4a4a4a" stroke-width="1.3" stroke-linecap="round"/>
<polyline points="410.93,258 410.93,249.6 428.18,249.6 428.18,270" fill="none" stroke="#222" stroke-width="1.3"/>
<path d="M417.48 243.4L422.88 243.4M418.83 241.06L421.53 245.74M421.53 241.06L418.83 245.74" stroke="#4a4a4a" stroke-width="1.3" stroke-linecap="round"/>
<polyline points="418.43,264 418.43,259.5 425.18,259.5 425.18,266.5" fill="none" stroke="#222" stroke-width="1.3"/>
<path d="M418.98 254.2L424.38 254.2M420.33 251.86L423.03 256.54M423.03 251.86L420.33 256.54" stroke="#4a4a4a" stroke-width="1.3" stroke-linecap="round"/>
<polyline points="436.94,202.6 436.94,196.3 444.64,196.3 444.64,237.7" fill="none" stroke="#222" stroke-width="1.3"/>
<path d="M438.14 190.2L443.54 190.2M439.49 187.86L442.19 192.54M442.19 187.86L439.49 192.54" stroke="#4a4a4a" stroke-width="1.3" stroke-linecap="round"/>
<polyline points="448.14,236.2 448.14,230.4 463.94,230.4 463.94,264" fill="none" stroke="#222" stroke-width="1.3"/>
<path d="M449.24 225.5L454.64 225.5M450.59 223.16L453.29 227.84M453.29 223.16L450.59 227.84" stroke="#4a4a4a" stroke-width="1.3" stroke-linecap="round"/>
<path d="M458.34 225.5L463.74 225.5M459.69 223.16L462.39 227.84M462.39 223.16L459.69 227.84" stroke="#4a4a4a" stroke-width="1.3" stroke-linecap="round"/>
<polyline points="453.74,251.5 453.74,244.2 460.24,244.2 460.24,264" fill="none" stroke="#222" stroke-width="1.3"/>
<path d="M453.94 239.1L459.34 239.1M455.29 236.76L457.99 241.44M457.99 236.76L455.29 241.44" stroke="#4a4a4a" stroke-width="1.3" stroke-linecap="round"/>
<polyline points="473.4,193 473.4,187.3 479.2,187.3 479.2,226.5" fill="none" stroke="#222" stroke-width="1.3"/>
<path d="M473.5 181.2L478.9 181.2M474.85 178.86L477.55 183.54M477.55 178.86L474.85 183.54" stroke="#4a4a4a" stroke-width="1.3" stroke-linecap="round"/>
<polyline points="481.5,224 481.5,218.5 497.7,218.5 497.7,255.2" fill="none" stroke="#222" stroke-width="1.3"/>
<path d="M486.9 212.6L492.3 212.6M488.25 210.26L490.95 214.94M490.95 210.26L488.25 214.94" stroke="#4a4a4a" stroke-width="1.3" stroke-linecap="round"/>
<polyline points="486.9,242 486.9,236.9 494.2,236.9 494.2,256.2" fill="none" stroke="#222" stroke-width="1.3"/>
<path d="M487.8 231.5L493.2 231.5M489.15 229.16L491.85 233.84M491.85 229.16L489.15 233.84" stroke="#4a4a4a" stroke-width="1.3" stroke-linecap="round"/>
<rect x="307.4" y="197.2" width="9.4" height="3.8" fill="#2e4ea6"/>
<text x="320.8" y="200.4" font-size="11.2">Vector</text>
<rect x="307.4" y="208.2" width="9.4" height="3.8" fill="#e8242e"/>
<text x="320.8" y="211.6" font-size="11.2">Vector<tspan dx="2.3">+</tspan><tspan dx="2.3">ABR</tspan></text>
<rect x="307.4" y="219.1" width="9.4" height="3.8" fill="#34b24c"/>
<text x="320.8" y="222.7" font-size="11.2"><tspan font-style="italic">NXTAR</tspan></text>
<rect x="307.4" y="230.1" width="9.4" height="3.8" fill="#8052b0"/>
<text x="320.8" y="236.3" font-size="11.2"><tspan font-style="italic">NXTAR</tspan><tspan dx="2.3">+</tspan><tspan dx="2.3">ABR</tspan></text>
<text x="8" y="335.8" font-size="17" font-weight="bold" fill="#000">F</text>
<line x1="58.3" y1="350.4" x2="58.3" y2="460.2" stroke="#1a1a1a" stroke-width="1.3"/>
<line x1="53.3" y1="350.4" x2="58.95" y2="350.4" stroke="#1a1a1a" stroke-width="1.3"/>
<text x="51" y="354.5" font-size="11.4" text-anchor="end">1,500</text>
<line x1="53.3" y1="387" x2="58.95" y2="387" stroke="#1a1a1a" stroke-width="1.3"/>
<text x="51" y="391.1" font-size="11.4" text-anchor="end">1,000</text>
<line x1="53.3" y1="423.6" x2="58.95" y2="423.6" stroke="#1a1a1a" stroke-width="1.3"/>
<text x="51" y="427.7" font-size="11.4" text-anchor="end">500</text>
<line x1="53.3" y1="460.2" x2="58.95" y2="460.2" stroke="#1a1a1a" stroke-width="1.3"/>
<text x="51" y="464.3" font-size="11.4" text-anchor="end">0</text>
<line x1="58.3" y1="460.2" x2="225.7" y2="460.2" stroke="#1a1a1a" stroke-width="1.3"/>
<line x1="68.7" y1="460.2" x2="68.7" y2="463.7" stroke="#1a1a1a" stroke-width="1.3"/>
<text x="74" y="473.6" font-size="11" text-anchor="middle">32</text>
<line x1="85.1" y1="460.2" x2="85.1" y2="463.7" stroke="#1a1a1a" stroke-width="1.3"/>
<text x="90" y="473.6" font-size="11" text-anchor="middle">35</text>
<line x1="101.1" y1="460.2" x2="101.1" y2="463.7" stroke="#1a1a1a" stroke-width="1.3"/>
<text x="105.8" y="473.6" font-size="11" text-anchor="middle">39</text>
<line x1="117.45" y1="460.2" x2="117.45" y2="463.7" stroke="#1a1a1a" stroke-width="1.3"/>
<text x="120.8" y="473.6" font-size="11" text-anchor="middle">41</text>
<line x1="133.65" y1="460.2" x2="133.65" y2="463.7" stroke="#1a1a1a" stroke-width="1.3"/>
<text x="137.2" y="473.6" font-size="11" text-anchor="middle">43</text>
<line x1="149.45" y1="460.2" x2="149.45" y2="463.7" stroke="#1a1a1a" stroke-width="1.3"/>
<text x="153.5" y="473.6" font-size="11" text-anchor="middle">45</text>
<line x1="165.8" y1="460.2" x2="165.8" y2="463.7" stroke="#1a1a1a" stroke-width="1.3"/>
<text x="168.8" y="473.6" font-size="11" text-anchor="middle">47</text>
<line x1="182.3" y1="460.2" x2="182.3" y2="463.7" stroke="#1a1a1a" stroke-width="1.3"/>
<text x="183.5" y="473.6" font-size="11" text-anchor="middle">49</text>
<line x1="198.2" y1="460.2" x2="198.2" y2="463.7" stroke="#1a1a1a" stroke-width="1.3"/>
<text x="199.6" y="473.6" font-size="11" text-anchor="middle">51</text>
<line x1="214.3" y1="460.2" x2="214.3" y2="463.7" stroke="#1a1a1a" stroke-width="1.3"/>
<text x="215" y="473.6" font-size="11" text-anchor="middle">53</text>
<text x="143.5" y="486.6" font-size="11.6" text-anchor="middle">Days of cells injection</text>
<text x="0" y="0" font-size="11.7" text-anchor="middle" transform="translate(16.8 399.3) rotate(-90)">Tumor volume (mm<tspan dy="-5.3" font-size="7.8">3</tspan><tspan dy="5.3">)</tspan></text>
<polyline points="68.7,460.2 85.1,460.2 101.1,459.5 117.45,457.4 133.65,455.3 149.45,451.1 165.8,445.8 182.3,437.7 198.2,432 210.9,419.3" fill="none" stroke="#e0242f" stroke-width="1.7" stroke-linejoin="round"/>
<path d="M66.66 458.5L70.74 458.5L68.7 461.9Z" fill="#e0242f"/>
<path d="M83.06 458.5L87.14 458.5L85.1 461.9Z" fill="#e0242f"/>
<path d="M99.06 457.8L103.14 457.8L101.1 461.2Z" fill="#e0242f"/>
<path d="M115.41 455.7L119.49 455.7L117.45 459.1Z" fill="#e0242f"/>
<line x1="133.65" y1="453.4" x2="133.65" y2="457.2" stroke="#e0242f" stroke-width="1.5"/>
<line x1="131.35" y1="453.4" x2="135.95" y2="453.4" stroke="#e0242f" stroke-width="1.5"/>
<line x1="131.35" y1="457.2" x2="135.95" y2="457.2" stroke="#e0242f" stroke-width="1.5"/>
<path d="M131.61 453.6L135.69 453.6L133.65 457Z" fill="#e0242f"/>
<line x1="149.45" y1="447.5" x2="149.45" y2="456.4" stroke="#e0242f" stroke-width="1.5"/>
<line x1="147.15" y1="447.5" x2="151.75" y2="447.5" stroke="#e0242f" stroke-width="1.5"/>
<line x1="147.15" y1="456.4" x2="151.75" y2="456.4" stroke="#e0242f" stroke-width="1.5"/>
<path d="M147.41 449.4L151.49 449.4L149.45 452.8Z" fill="#e0242f"/>
<line x1="165.8" y1="441.1" x2="165.8" y2="451.1" stroke="#e0242f" stroke-width="1.5"/>
<line x1="163.5" y1="441.1" x2="168.1" y2="441.1" stroke="#e0242f" stroke-width="1.5"/>
<line x1="163.5" y1="451.1" x2="168.1" y2="451.1" stroke="#e0242f" stroke-width="1.5"/>
<path d="M163.76 444.1L167.84 444.1L165.8 447.5Z" fill="#e0242f"/>
<line x1="182.3" y1="429.9" x2="182.3" y2="445.8" stroke="#e0242f" stroke-width="1.5"/>
<line x1="180" y1="429.9" x2="184.6" y2="429.9" stroke="#e0242f" stroke-width="1.5"/>
<line x1="180" y1="445.8" x2="184.6" y2="445.8" stroke="#e0242f" stroke-width="1.5"/>
<path d="M180.26 436L184.34 436L182.3 439.4Z" fill="#e0242f"/>
<line x1="198.2" y1="420.8" x2="198.2" y2="443.7" stroke="#e0242f" stroke-width="1.5"/>
<line x1="195.9" y1="420.8" x2="200.5" y2="420.8" stroke="#e0242f" stroke-width="1.5"/>
<line x1="195.9" y1="443.7" x2="200.5" y2="443.7" stroke="#e0242f" stroke-width="1.5"/>
<path d="M196.16 430.3L200.24 430.3L198.2 433.7Z" fill="#e0242f"/>
<line x1="210.9" y1="403.5" x2="210.9" y2="433.1" stroke="#e0242f" stroke-width="1.5"/>
<line x1="208.6" y1="403.5" x2="213.2" y2="403.5" stroke="#e0242f" stroke-width="1.5"/>
<line x1="208.6" y1="433.1" x2="213.2" y2="433.1" stroke="#e0242f" stroke-width="1.5"/>
<path d="M208.86 417.6L212.94 417.6L210.9 421Z" fill="#e0242f"/>
<polyline points="68.7,460.2 85.1,460.2 101.1,454.2 117.45,449 133.65,432.7 149.45,429.3 165.8,424.2 182.3,409.4 198.2,389.1 210.9,375.5" fill="none" stroke="#2b4096" stroke-width="1.7" stroke-linejoin="round"/>
<rect x="66.9" y="458.4" width="3.6" height="3.6" fill="#2b4096"/>
<rect x="83.3" y="458.4" width="3.6" height="3.6" fill="#2b4096"/>
<line x1="101.1" y1="452.5" x2="101.1" y2="456" stroke="#2b4096" stroke-width="1.5"/>
<line x1="98.8" y1="452.5" x2="103.4" y2="452.5" stroke="#2b4096" stroke-width="1.5"/>
<line x1="98.8" y1="456" x2="103.4" y2="456" stroke="#2b4096" stroke-width="1.5"/>
<rect x="99.3" y="452.4" width="3.6" height="3.6" fill="#2b4096"/>
<line x1="117.45" y1="446.8" x2="117.45" y2="451.4" stroke="#2b4096" stroke-width="1.5"/>
<line x1="115.15" y1="446.8" x2="119.75" y2="446.8" stroke="#2b4096" stroke-width="1.5"/>
<line x1="115.15" y1="451.4" x2="119.75" y2="451.4" stroke="#2b4096" stroke-width="1.5"/>
<rect x="115.65" y="447.2" width="3.6" height="3.6" fill="#2b4096"/>
<line x1="133.65" y1="422.5" x2="133.65" y2="443.2" stroke="#2b4096" stroke-width="1.5"/>
<line x1="131.35" y1="422.5" x2="135.95" y2="422.5" stroke="#2b4096" stroke-width="1.5"/>
<line x1="131.35" y1="443.2" x2="135.95" y2="443.2" stroke="#2b4096" stroke-width="1.5"/>
<rect x="131.85" y="430.9" width="3.6" height="3.6" fill="#2b4096"/>
<line x1="149.45" y1="423.3" x2="149.45" y2="435.5" stroke="#2b4096" stroke-width="1.5"/>
<line x1="147.15" y1="423.3" x2="151.75" y2="423.3" stroke="#2b4096" stroke-width="1.5"/>
<line x1="147.15" y1="435.5" x2="151.75" y2="435.5" stroke="#2b4096" stroke-width="1.5"/>
<rect x="147.65" y="427.5" width="3.6" height="3.6" fill="#2b4096"/>
<line x1="165.8" y1="417.9" x2="165.8" y2="431.4" stroke="#2b4096" stroke-width="1.5"/>
<line x1="163.5" y1="417.9" x2="168.1" y2="417.9" stroke="#2b4096" stroke-width="1.5"/>
<line x1="163.5" y1="431.4" x2="168.1" y2="431.4" stroke="#2b4096" stroke-width="1.5"/>
<rect x="164" y="422.4" width="3.6" height="3.6" fill="#2b4096"/>
<line x1="182.3" y1="400.3" x2="182.3" y2="420.4" stroke="#2b4096" stroke-width="1.5"/>
<line x1="180" y1="400.3" x2="184.6" y2="400.3" stroke="#2b4096" stroke-width="1.5"/>
<line x1="180" y1="420.4" x2="184.6" y2="420.4" stroke="#2b4096" stroke-width="1.5"/>
<rect x="180.5" y="407.6" width="3.6" height="3.6" fill="#2b4096"/>
<line x1="198.2" y1="376.4" x2="198.2" y2="401.3" stroke="#2b4096" stroke-width="1.5"/>
<line x1="195.9" y1="376.4" x2="200.5" y2="376.4" stroke="#2b4096" stroke-width="1.5"/>
<line x1="195.9" y1="401.3" x2="200.5" y2="401.3" stroke="#2b4096" stroke-width="1.5"/>
<rect x="196.4" y="387.3" width="3.6" height="3.6" fill="#2b4096"/>
<line x1="210.9" y1="364.3" x2="210.9" y2="386.5" stroke="#2b4096" stroke-width="1.5"/>
<line x1="208.6" y1="364.3" x2="213.2" y2="364.3" stroke="#2b4096" stroke-width="1.5"/>
<line x1="208.6" y1="386.5" x2="213.2" y2="386.5" stroke="#2b4096" stroke-width="1.5"/>
<rect x="209.1" y="373.7" width="3.6" height="3.6" fill="#2b4096"/>
<path d="M130.95 414.5L136.35 414.5M132.3 412.16L135 416.84M135 412.16L132.3 416.84" stroke="#4a4a4a" stroke-width="1.3" stroke-linecap="round"/>
<path d="M146.75 414.5L152.15 414.5M148.1 412.16L150.8 416.84M150.8 412.16L148.1 416.84" stroke="#4a4a4a" stroke-width="1.3" stroke-linecap="round"/>
<path d="M163.1 412.3L168.5 412.3M164.45 409.96L167.15 414.64M167.15 409.96L164.45 414.64" stroke="#4a4a4a" stroke-width="1.3" stroke-linecap="round"/>
<path d="M179.6 392.5L185 392.5M180.95 390.16L183.65 394.84M183.65 390.16L180.95 394.84" stroke="#4a4a4a" stroke-width="1.3" stroke-linecap="round"/>
<path d="M195.5 370L200.9 370M196.85 367.66L199.55 372.34M199.55 367.66L196.85 372.34" stroke="#4a4a4a" stroke-width="1.3" stroke-linecap="round"/>
<path d="M208.2 356.9L213.6 356.9M209.55 354.56L212.25 359.24M212.25 354.56L209.55 359.24" stroke="#4a4a4a" stroke-width="1.3" stroke-linecap="round"/>
<line x1="78" y1="382.6" x2="89.1" y2="382.6" stroke="#2b4096" stroke-width="1.4"/>
<rect x="81.7" y="380.9" width="3.6" height="3.4" fill="#2b4096"/>
<text x="93.8" y="386.6" font-size="11.2">Vector</text>
<line x1="78" y1="396.2" x2="89.1" y2="396.2" stroke="#e0242f" stroke-width="1.4"/>
<path d="M81.9 394.6L85.3 394.6L83.6 397.8Z" fill="#e0242f"/>
<text x="93.8" y="400" font-size="11.2" font-style="italic">NXTAR</text>
<text x="238.9" y="352.8" font-size="17" font-weight="bold" fill="#000">G</text>
<defs>
<filter id="blur2" x="-20%" y="-20%" width="140%" height="140%"><feGaussianBlur stdDeviation="2"/></filter>
<filter id="blur1" x="-30%" y="-30%" width="160%" height="160%"><feGaussianBlur stdDeviation="0.8"/></filter>
<filter id="blur05" x="-30%" y="-30%" width="160%" height="160%"><feGaussianBlur stdDeviation="0.5"/></filter>
<filter id="blur4" x="-20%" y="-20%" width="140%" height="140%"><feGaussianBlur stdDeviation="4"/></filter>
<radialGradient id="tum" cx="45%" cy="45%" r="60%">
<stop offset="0" stop-color="#b5343c"/><stop offset="0.6" stop-color="#9c2430"/><stop offset="0.9" stop-color="#8e1f2a"/><stop offset="1" stop-color="#c86a6e"/>
</radialGradient>
<linearGradient id="photoL" x1="0" x2="1" y1="0" y2="0">
<stop offset="0" stop-color="#fff" stop-opacity="1"/><stop offset="0.05" stop-color="#fff" stop-opacity="0"/>
</linearGradient>
<clipPath id="photoclip"><rect x="253.8" y="363" width="220" height="86"/></clipPath>
<linearGradient id="blotbg" x1="0" x2="0" y1="0" y2="1"><stop offset="0" stop-color="#e6e6e6"/><stop offset="0.5" stop-color="#efefef"/><stop offset="1" stop-color="#f3f3f3"/></linearGradient>
</defs>
<g clip-path="url(#photoclip)">
<defs><linearGradient id="pbg" x1="0" x2="1" y1="0" y2="0"><stop offset="0" stop-color="#e6e6e6"/><stop offset="0.4" stop-color="#dcdddd"/><stop offset="0.7" stop-color="#d2d3d3"/><stop offset="1" stop-color="#c8c9c9"/></linearGradient></defs>
<rect x="253.3" y="362.9" width="221" height="87" fill="url(#pbg)"/>
<filter id="turb" x="0" y="0" width="100%" height="100%"><feTurbulence type="fractalNoise" baseFrequency="0.07 0.11" numOctaves="3" seed="11"/><feColorMatrix type="matrix" values="0 0 0 0 1  0 0 0 0 1  0 0 0 0 1  0 0 0 2.0 -0.9"/></filter>
<filter id="turb2" x="0" y="0" width="100%" height="100%"><feTurbulence type="fractalNoise" baseFrequency="0.05 0.08" numOctaves="2" seed="3"/><feColorMatrix type="matrix" values="0 0 0 0 0.55  0 0 0 0 0.6  0 0 0 0 0.62  0 0 0 2.0 -1.05"/></filter>
<rect x="253.3" y="362.9" width="221" height="87" filter="url(#turb)" opacity="0.55"/>
<rect x="253.3" y="362.9" width="221" height="87" filter="url(#turb2)" opacity="0.3"/>
<g filter="url(#blur4)" fill="#e6e6e6"><rect x="253" y="361" width="221" height="8"/><rect x="250" y="362" width="10" height="80"/><ellipse cx="300" cy="372" rx="30" ry="6"/></g>
<g filter="url(#blur2)" fill="#fafafa"><ellipse cx="438" cy="370" rx="12" ry="6" transform="rotate(-25 438 370)"/><ellipse cx="466" cy="371" rx="7" ry="7"/><ellipse cx="465" cy="420" rx="8" ry="9"/><ellipse cx="462" cy="400" rx="5" ry="6"/><ellipse cx="255" cy="400" rx="4" ry="30"/></g>
<rect x="470.6" y="362.9" width="3.6" height="72" fill="#b8b8b8"/>
<g filter="url(#blur1)" fill="#f2d0d0">
<path d="M288.36 385.25 L288.63 386.25 L288.8 387.3 L288.81 388.37 L288.67 389.43 L288.37 390.47 L287.93 391.46 L287.36 392.38 L286.69 393.24 L285.96 394.04 L285.19 394.8 L284.38 395.54 L283.54 396.27 L282.65 396.99 L281.7 397.69 L280.68 398.34 L279.58 398.9 L278.41 399.34 L277.17 399.62 L275.9 399.74 L274.63 399.67 L273.37 399.45 L272.14 399.08 L270.95 398.6 L269.79 398.03 L268.68 397.38 L267.6 396.65 L266.58 395.84 L265.62 394.94 L264.77 393.94 L264.05 392.82 L263.51 391.62 L263.17 390.35 L263.03 389.04 L263.09 387.73 L263.33 386.46 L263.69 385.25 L264.14 384.11 L264.62 383.03 L265.12 382.02 L265.61 381.04 L266.1 380.08 L266.6 379.15 L267.15 378.23 L267.77 377.36 L268.47 376.55 L269.27 375.83 L270.16 375.23 L271.12 374.77 L272.14 374.45 L273.17 374.26 L274.21 374.18 L275.22 374.19 L276.16 373.65 L277.17 373.15 L278.26 372.76 L279.42 372.49 L280.63 372.36 L281.85 372.4 L283.06 372.62 L284.22 373.05 L285.28 373.68 L286.2 374.49 L286.97 375.45 L287.57 376.52 L288.02 377.65 L288.33 378.81 L288.52 379.96 L288.61 381.08 L288.62 382.18 L288.52 383.25 L288.3 384.27Z"/>
<path d="M323.95 384.58 L324.08 385.68 L324.04 386.8 L323.84 387.89 L323.47 388.95 L322.97 389.94 L322.37 390.88 L321.71 391.75 L321.01 392.59 L320.29 393.41 L319.56 394.23 L318.8 395.06 L317.99 395.89 L317.11 396.69 L316.14 397.44 L315.07 398.08 L313.93 398.58 L312.71 398.9 L311.46 399.02 L310.2 398.96 L308.96 398.71 L307.77 398.32 L306.64 397.82 L305.55 397.23 L304.52 396.58 L303.54 395.88 L302.61 395.12 L301.74 394.29 L300.95 393.39 L300.27 392.41 L299.71 391.36 L299.31 390.24 L299.07 389.08 L298.98 387.92 L299.03 386.77 L299.17 385.65 L299.39 384.58 L299.65 383.54 L299.94 382.55 L300.26 381.58 L300.61 380.63 L301.01 379.7 L301.48 378.82 L302.05 377.99 L302.62 377.17 L303.07 376.19 L303.7 375.33 L304.48 374.62 L305.38 374.06 L306.36 373.65 L307.37 373.36 L308.4 373.16 L309.42 373.03 L310.44 372.93 L311.46 372.85 L312.49 372.8 L313.53 372.8 L314.59 372.87 L315.66 373.04 L316.7 373.33 L317.69 373.77 L318.61 374.36 L319.43 375.08 L320.12 375.91 L320.68 376.83 L321.11 377.82 L321.4 378.84 L321.64 379.83 L322.23 380.66 L322.77 381.54 L323.26 382.49 L323.67 383.51Z"/>
<path d="M352.95 387.62 L353.17 388.43 L353.29 389.27 L353.29 390.13 L353.2 390.99 L353.01 391.85 L352.76 392.71 L352.45 393.58 L352.09 394.46 L351.69 395.38 L351.24 396.32 L350.71 397.29 L350.08 398.26 L349.34 399.2 L348.47 400.07 L347.47 400.82 L346.37 401.4 L345.18 401.81 L343.94 402.02 L342.67 402.05 L341.42 401.91 L340.18 401.63 L338.98 401.23 L337.83 400.73 L336.72 400.12 L335.69 399.39 L334.76 398.55 L333.96 397.6 L333.32 396.53 L332.85 395.38 L332.58 394.18 L332.48 392.96 L332.55 391.77 L332.73 390.62 L333 389.55 L333.32 388.55 L333.64 387.62 L333.97 386.75 L334.28 385.92 L334.59 385.12 L334.93 384.34 L335.31 383.6 L335.75 382.89 L336.26 382.25 L336.85 381.67 L337.5 381.19 L338.21 380.79 L338.94 380.49 L339.69 380.27 L340.27 379.75 L340.32 377.7 L340.83 376.05 L341.65 374.65 L342.7 373.49 L343.94 372.61 L345.3 372.04 L346.72 371.83 L348.13 371.99 L349.44 372.51 L350.58 373.37 L351.52 374.49 L352.22 375.79 L352.68 377.2 L352.93 378.63 L352.96 380.05 L352.8 381.41 L352.43 382.72 L351.76 383.97 L351.34 384.93 L351.8 385.51 L352.25 386.16 L352.64 386.86Z"/>
<path d="M383.86 390.5 L383.79 391.43 L383.69 392.35 L383.54 393.27 L383.33 394.19 L383.03 395.08 L382.64 395.95 L382.14 396.76 L381.56 397.52 L380.9 398.2 L380.18 398.81 L379.41 399.37 L378.61 399.87 L377.79 400.34 L376.94 400.78 L376.06 401.18 L375.15 401.54 L374.19 401.82 L373.2 402.01 L372.19 402.06 L371.18 401.97 L370.19 401.72 L369.26 401.32 L368.4 400.79 L367.63 400.15 L366.94 399.44 L366.32 398.7 L365.75 397.95 L365.21 397.21 L364.68 396.46 L364.16 395.72 L363.66 394.95 L363.18 394.15 L362.76 393.3 L362.41 392.4 L362.17 391.46 L362.06 390.5 L362.07 389.53 L362.21 388.56 L362.46 387.62 L362.8 386.71 L363.21 385.84 L363.67 385 L364.18 384.18 L364.74 383.4 L365.34 382.64 L366.01 381.94 L366.75 381.29 L367.56 380.74 L368.44 380.29 L369.36 379.96 L370.32 379.76 L371.29 379.69 L372.26 379.71 L373.2 379.81 L374.12 379.95 L375.03 380.12 L375.93 380.3 L376.84 380.5 L377.75 380.73 L378.68 381.01 L379.59 381.37 L380.48 381.83 L381.3 382.4 L382.03 383.09 L382.64 383.89 L383.13 384.77 L383.48 385.71 L383.71 386.67 L383.84 387.65 L383.89 388.61 L383.89 389.56Z"/>
<path d="M415.03 389.5 L414.83 390.41 L414.54 391.29 L414.19 392.12 L413.81 392.92 L413.41 393.7 L413.01 394.47 L412.61 395.25 L412.19 396.04 L411.73 396.83 L411.2 397.61 L410.59 398.35 L409.89 399.02 L409.1 399.59 L408.24 400.04 L407.31 400.36 L406.35 400.54 L405.37 400.6 L404.4 400.55 L403.44 400.43 L402.51 400.23 L401.59 399.99 L400.69 399.68 L399.82 399.32 L398.99 398.88 L398.2 398.36 L397.47 397.76 L396.83 397.07 L396.28 396.31 L395.83 395.5 L395.47 394.66 L395.18 393.8 L394.95 392.94 L394.75 392.09 L394.57 391.23 L394.39 390.38 L394.23 389.5 L394.11 388.6 L394.03 387.67 L394.04 386.72 L394.16 385.77 L394.41 384.84 L394.8 383.96 L395.32 383.14 L395.96 382.41 L396.68 381.78 L397.47 381.24 L398.29 380.77 L399.13 380.37 L399.97 380.01 L400.82 379.67 L401.69 379.37 L402.57 379.1 L403.47 378.89 L404.4 378.75 L405.34 378.72 L406.29 378.8 L407.21 379 L408.11 379.31 L408.96 379.73 L409.75 380.23 L410.5 380.79 L411.21 381.39 L411.88 382.02 L412.52 382.69 L413.12 383.39 L413.69 384.14 L414.18 384.94 L414.6 385.79 L414.9 386.69 L415.08 387.62 L415.12 388.56Z"/>
<path d="M439.99 391.6 L440.11 392.44 L440.16 393.3 L440.11 394.18 L439.95 395.04 L439.66 395.87 L439.27 396.66 L438.78 397.4 L438.21 398.07 L437.58 398.68 L436.91 399.24 L436.22 399.76 L435.49 400.24 L434.73 400.68 L433.95 401.07 L433.12 401.38 L432.27 401.61 L431.39 401.74 L430.5 401.75 L429.62 401.64 L428.77 401.42 L427.95 401.12 L427.17 400.75 L426.43 400.33 L425.71 399.89 L425.01 399.44 L424.32 398.96 L423.64 398.46 L422.97 397.92 L422.33 397.32 L421.75 396.65 L421.26 395.91 L420.87 395.11 L420.61 394.25 L420.48 393.37 L420.48 392.48 L420.59 391.6 L420.78 390.75 L421.03 389.93 L421.32 389.14 L421.63 388.37 L421.96 387.62 L422.3 386.87 L422.68 386.12 L423.1 385.39 L423.59 384.69 L424.15 384.03 L424.79 383.44 L425.5 382.93 L426.26 382.51 L427.07 382.18 L427.91 381.93 L428.76 381.74 L429.63 381.62 L430.5 381.55 L431.38 381.52 L432.27 381.56 L433.16 381.66 L434.04 381.86 L434.9 382.16 L435.71 382.58 L436.44 383.12 L437.08 383.75 L437.63 384.47 L438.07 385.25 L438.43 386.05 L438.72 386.86 L438.96 387.66 L439.18 388.44 L439.39 389.22 L439.61 389.99 L439.81 390.79Z"/>
<path d="M464.39 392.2 L464.63 393.17 L464.7 394.17 L464.56 395.16 L464.22 396.1 L463.7 396.96 L463.03 397.7 L462.27 398.34 L461.45 398.87 L460.62 399.32 L459.79 399.7 L458.98 400.03 L458.19 400.32 L457.4 400.56 L456.62 400.77 L455.83 400.91 L455.05 401 L454.27 401.01 L453.5 400.95 L452.74 400.83 L452.01 400.66 L451.29 400.45 L450.58 400.21 L449.88 399.96 L449.17 399.7 L448.45 399.41 L447.71 399.1 L446.96 398.74 L446.21 398.32 L445.48 397.82 L444.81 397.22 L444.21 396.53 L443.72 395.76 L443.36 394.92 L443.12 394.03 L443.02 393.12 L443.02 392.2 L443.11 391.29 L443.28 390.4 L443.5 389.52 L443.78 388.66 L444.12 387.83 L444.53 387.02 L445.01 386.26 L445.59 385.56 L446.25 384.95 L446.98 384.43 L447.78 384.03 L448.61 383.73 L449.45 383.52 L450.3 383.4 L451.12 383.33 L451.93 383.31 L452.72 383.32 L453.5 383.35 L454.27 383.41 L455.03 383.5 L455.79 383.64 L456.54 383.84 L457.27 384.11 L457.97 384.45 L458.63 384.87 L459.25 385.34 L459.83 385.87 L460.37 386.44 L460.88 387.03 L461.4 387.64 L461.92 388.28 L462.45 388.94 L462.99 389.66 L463.52 390.43 L464 391.28Z"/>
<path d="M294.12 422.2 L293.77 423.41 L293.21 424.55 L292.53 425.58 L291.78 426.52 L291.01 427.38 L290.25 428.18 L289.5 428.92 L288.75 429.62 L287.97 430.27 L287.17 430.86 L286.32 431.37 L285.43 431.77 L284.51 432.08 L283.57 432.27 L282.63 432.37 L281.7 432.39 L280.79 432.34 L279.9 432.26 L279.03 432.15 L278.17 432.04 L277.3 431.91 L276.41 431.78 L275.51 431.61 L274.59 431.4 L273.66 431.12 L272.73 430.75 L271.81 430.29 L270.92 429.74 L270.07 429.08 L269.26 428.34 L268.5 427.52 L267.78 426.61 L267.12 425.62 L266.53 424.56 L266.05 423.41 L265.72 422.2 L265.59 420.95 L265.7 419.7 L266.06 418.49 L266.66 417.38 L267.47 416.4 L268.44 415.58 L269.51 414.93 L270.63 414.42 L271.74 414.04 L272.81 413.75 L273.83 413.53 L274.78 413.33 L275.67 413.14 L276.53 412.94 L277.37 412.74 L278.2 412.55 L279.04 412.38 L279.9 412.26 L280.78 412.19 L281.66 412.2 L282.56 412.29 L283.45 412.45 L284.34 412.67 L285.24 412.95 L286.15 413.28 L287.08 413.64 L288.04 414.06 L289.04 414.53 L290.06 415.09 L291.07 415.75 L292.04 416.54 L292.9 417.47 L293.59 418.53 L294.04 419.71 L294.22 420.95Z"/>
<path d="M315.95 420.62 L316.26 421.4 L316.46 422.22 L316.54 423.06 L316.52 423.93 L316.4 424.81 L316.21 425.69 L315.96 426.59 L315.65 427.52 L315.28 428.47 L314.83 429.43 L314.28 430.39 L313.6 431.3 L312.8 432.12 L311.86 432.79 L310.82 433.26 L309.71 433.51 L308.57 433.53 L307.44 433.33 L306.36 432.95 L305.36 432.42 L304.45 431.78 L303.63 431.08 L302.91 430.33 L302.28 429.56 L301.75 428.75 L301.31 427.93 L300.97 427.09 L300.74 426.24 L300.62 425.4 L300.6 424.57 L300.67 423.78 L300.8 423.04 L300.98 422.35 L300.71 421.81 L300.3 421.25 L299.89 420.62 L299.48 419.93 L299.08 419.15 L298.71 418.29 L298.39 417.33 L298.17 416.31 L298.09 415.23 L298.17 414.14 L298.44 413.07 L298.9 412.08 L299.53 411.21 L300.32 410.46 L301.22 409.86 L302.2 409.4 L303.22 409.05 L304.27 408.81 L305.33 408.66 L306.39 408.6 L307.44 408.65 L308.47 408.82 L309.46 409.13 L310.39 409.6 L311.23 410.21 L311.95 410.95 L312.54 411.79 L313 412.68 L313.34 413.59 L313.58 414.48 L313.73 415.35 L313.81 416.16 L313.84 416.93 L313.82 417.65 L313.98 418.24 L314.54 418.72 L315.06 419.28 L315.54 419.92Z"/>
<path d="M337.79 423.6 L337.69 424.36 L337.59 425.11 L337.48 425.87 L337.35 426.64 L337.19 427.42 L336.96 428.2 L336.66 428.96 L336.26 429.69 L335.76 430.36 L335.17 430.95 L334.49 431.45 L333.76 431.84 L332.98 432.14 L332.19 432.36 L331.39 432.52 L330.59 432.62 L329.79 432.68 L329 432.7 L328.21 432.68 L327.41 432.6 L326.63 432.46 L325.86 432.24 L325.12 431.93 L324.42 431.53 L323.77 431.06 L323.19 430.53 L322.65 429.95 L322.16 429.34 L321.71 428.71 L321.27 428.06 L320.86 427.4 L320.46 426.71 L320.09 425.99 L319.77 425.23 L319.53 424.43 L319.39 423.6 L319.36 422.76 L319.47 421.92 L319.71 421.11 L320.06 420.35 L320.51 419.64 L321.03 419 L321.59 418.41 L322.17 417.87 L322.75 417.35 L323.34 416.86 L323.94 416.37 L324.56 415.91 L325.21 415.47 L325.9 415.07 L326.63 414.74 L327.39 414.5 L328.19 414.35 L329 414.3 L329.81 414.35 L330.61 414.48 L331.39 414.69 L332.15 414.95 L332.89 415.25 L333.62 415.6 L334.33 415.99 L335.01 416.43 L335.66 416.94 L336.26 417.51 L336.78 418.15 L337.21 418.86 L337.53 419.62 L337.75 420.42 L337.86 421.22 L337.89 422.03 L337.86 422.82Z"/>
<path d="M356.73 421.2 L356.71 421.87 L356.7 422.56 L356.66 423.25 L356.61 423.97 L356.5 424.7 L356.31 425.42 L356.04 426.13 L355.68 426.8 L355.22 427.42 L354.66 427.95 L354.04 428.4 L353.37 428.76 L352.66 429.05 L351.94 429.27 L351.21 429.44 L350.48 429.57 L349.74 429.65 L349 429.7 L348.26 429.7 L347.51 429.63 L346.78 429.49 L346.07 429.26 L345.39 428.95 L344.76 428.55 L344.18 428.09 L343.65 427.57 L343.18 427.02 L342.74 426.45 L342.33 425.87 L341.95 425.27 L341.59 424.65 L341.26 424.02 L340.97 423.35 L340.74 422.66 L340.59 421.94 L340.53 421.2 L340.57 420.46 L340.71 419.74 L340.95 419.04 L341.26 418.38 L341.64 417.77 L342.05 417.19 L342.48 416.63 L342.92 416.1 L343.36 415.56 L343.82 415.03 L344.31 414.5 L344.83 413.98 L345.41 413.5 L346.04 413.07 L346.73 412.72 L347.46 412.47 L348.22 412.33 L349 412.3 L349.77 412.38 L350.53 412.54 L351.26 412.77 L351.96 413.06 L352.64 413.39 L353.29 413.77 L353.91 414.19 L354.49 414.65 L355.03 415.17 L355.5 415.75 L355.9 416.37 L356.22 417.03 L356.45 417.73 L356.6 418.43 L356.69 419.14 L356.72 419.84 L356.73 420.52Z"/>
<path d="M378.55 421.4 L378.56 422.15 L378.56 422.91 L378.52 423.68 L378.42 424.46 L378.25 425.24 L377.98 426.01 L377.62 426.73 L377.16 427.41 L376.62 428.02 L376.01 428.56 L375.35 429.03 L374.65 429.45 L373.93 429.82 L373.18 430.14 L372.41 430.41 L371.63 430.63 L370.82 430.79 L370 430.86 L369.17 430.84 L368.36 430.7 L367.57 430.46 L366.83 430.12 L366.14 429.69 L365.5 429.2 L364.91 428.67 L364.36 428.12 L363.84 427.56 L363.33 427 L362.83 426.42 L362.33 425.83 L361.85 425.2 L361.42 424.52 L361.05 423.8 L360.77 423.03 L360.6 422.22 L360.55 421.4 L360.63 420.58 L360.81 419.78 L361.09 419.01 L361.44 418.29 L361.84 417.59 L362.27 416.94 L362.72 416.3 L363.19 415.68 L363.68 415.08 L364.22 414.51 L364.79 413.97 L365.43 413.48 L366.11 413.06 L366.84 412.73 L367.61 412.49 L368.4 412.34 L369.2 412.26 L370 412.26 L370.8 412.31 L371.59 412.41 L372.38 412.54 L373.16 412.71 L373.95 412.93 L374.72 413.22 L375.46 413.6 L376.15 414.07 L376.77 414.63 L377.3 415.27 L377.73 415.99 L378.04 416.76 L378.26 417.55 L378.39 418.34 L378.47 419.13 L378.51 419.9 L378.53 420.65Z"/>
<path d="M398.76 422.2 L398.81 422.9 L398.8 423.61 L398.74 424.33 L398.59 425.03 L398.35 425.72 L398.01 426.37 L397.6 426.96 L397.12 427.5 L396.59 427.99 L396.02 428.42 L395.42 428.8 L394.81 429.15 L394.19 429.46 L393.54 429.74 L392.88 429.97 L392.2 430.15 L391.51 430.26 L390.8 430.29 L390.1 430.23 L389.41 430.09 L388.75 429.87 L388.12 429.57 L387.52 429.23 L386.95 428.86 L386.41 428.47 L385.87 428.07 L385.34 427.66 L384.8 427.23 L384.27 426.77 L383.75 426.27 L383.26 425.72 L382.84 425.1 L382.5 424.42 L382.27 423.7 L382.16 422.96 L382.16 422.2 L382.28 421.45 L382.48 420.73 L382.76 420.05 L383.08 419.39 L383.44 418.77 L383.82 418.17 L384.23 417.6 L384.67 417.06 L385.14 416.54 L385.66 416.07 L386.22 415.66 L386.82 415.3 L387.45 415.02 L388.11 414.81 L388.78 414.66 L389.45 414.57 L390.13 414.51 L390.8 414.49 L391.47 414.49 L392.16 414.51 L392.85 414.56 L393.55 414.65 L394.25 414.79 L394.95 415.02 L395.61 415.33 L396.23 415.73 L396.78 416.22 L397.25 416.79 L397.64 417.41 L397.94 418.08 L398.17 418.77 L398.34 419.46 L398.48 420.14 L398.59 420.83 L398.69 421.51Z"/>
<path d="M417.32 422.5 L417.31 423.17 L417.27 423.85 L417.16 424.53 L416.99 425.19 L416.75 425.84 L416.45 426.45 L416.08 427.04 L415.67 427.59 L415.22 428.12 L414.73 428.62 L414.23 429.11 L413.69 429.59 L413.12 430.05 L412.51 430.5 L411.85 430.89 L411.14 431.21 L410.38 431.43 L409.6 431.53 L408.81 431.49 L408.04 431.32 L407.32 431.02 L406.64 430.62 L406.03 430.15 L405.48 429.63 L404.98 429.1 L404.51 428.56 L404.07 428.03 L403.65 427.49 L403.25 426.95 L402.87 426.39 L402.52 425.8 L402.22 425.19 L401.98 424.54 L401.82 423.87 L401.73 423.19 L401.72 422.5 L401.76 421.81 L401.86 421.14 L402.01 420.47 L402.18 419.8 L402.39 419.14 L402.64 418.48 L402.92 417.82 L403.26 417.18 L403.67 416.57 L404.15 416 L404.7 415.51 L405.32 415.09 L405.99 414.77 L406.7 414.54 L407.43 414.4 L408.16 414.33 L408.88 414.31 L409.6 414.33 L410.31 414.37 L411.02 414.44 L411.74 414.53 L412.45 414.67 L413.16 414.86 L413.85 415.14 L414.5 415.5 L415.1 415.95 L415.62 416.48 L416.06 417.08 L416.41 417.73 L416.68 418.41 L416.88 419.11 L417.03 419.8 L417.14 420.48 L417.22 421.16 L417.28 421.83Z"/>
<path d="M434.2 423.9 L434.21 424.51 L434.17 425.13 L434.06 425.74 L433.89 426.33 L433.64 426.9 L433.34 427.44 L432.98 427.95 L432.59 428.42 L432.17 428.87 L431.73 429.3 L431.27 429.72 L430.8 430.14 L430.3 430.55 L429.77 430.96 L429.19 431.33 L428.57 431.65 L427.9 431.88 L427.2 432.01 L426.49 432.01 L425.79 431.89 L425.12 431.66 L424.5 431.32 L423.93 430.91 L423.41 430.46 L422.95 429.97 L422.52 429.48 L422.13 428.97 L421.77 428.46 L421.43 427.94 L421.13 427.4 L420.87 426.85 L420.67 426.28 L420.51 425.69 L420.42 425.1 L420.38 424.5 L420.4 423.9 L420.45 423.31 L420.53 422.72 L420.64 422.14 L420.76 421.56 L420.9 420.96 L421.06 420.36 L421.27 419.75 L421.52 419.14 L421.85 418.55 L422.25 418 L422.72 417.5 L423.27 417.09 L423.87 416.77 L424.52 416.54 L425.19 416.41 L425.87 416.35 L426.54 416.36 L427.2 416.41 L427.85 416.49 L428.49 416.6 L429.12 416.73 L429.75 416.91 L430.36 417.13 L430.95 417.41 L431.5 417.76 L432 418.18 L432.45 418.65 L432.83 419.18 L433.15 419.74 L433.41 420.32 L433.62 420.91 L433.79 421.5 L433.94 422.1 L434.05 422.69 L434.14 423.29Z"/>
</g>
<g filter="url(#blur05)">
<path d="M286.66 385.25 L286.94 386.1 L287.12 387 L287.17 387.93 L287.08 388.85 L286.83 389.75 L286.46 390.61 L285.96 391.4 L285.39 392.14 L284.76 392.84 L284.1 393.5 L283.41 394.15 L282.69 394.8 L281.93 395.45 L281.12 396.09 L280.24 396.7 L279.28 397.22 L278.26 397.64 L277.17 397.92 L276.05 398.04 L274.92 398 L273.81 397.81 L272.72 397.48 L271.66 397.06 L270.64 396.56 L269.65 395.99 L268.69 395.35 L267.78 394.64 L266.92 393.85 L266.16 392.96 L265.52 391.97 L265.05 390.9 L264.76 389.76 L264.67 388.6 L264.77 387.43 L265.02 386.31 L265.39 385.25 L265.83 384.26 L266.3 383.33 L266.76 382.46 L267.2 381.62 L267.64 380.8 L268.07 380 L268.54 379.21 L269.07 378.45 L269.67 377.75 L270.36 377.13 L271.14 376.63 L271.97 376.24 L272.86 375.99 L273.75 375.86 L274.65 375.82 L275.52 375.87 L276.31 375.34 L277.17 374.85 L278.12 374.46 L279.13 374.17 L280.19 374 L281.27 373.99 L282.34 374.16 L283.37 374.52 L284.3 375.07 L285.11 375.79 L285.76 376.66 L286.27 377.62 L286.62 378.63 L286.85 379.66 L286.98 380.67 L287.02 381.66 L286.97 382.62 L286.84 383.54 L286.61 384.42Z" fill="#962a36"/>
<path d="M285.66 385.25 L285.94 386.02 L286.14 386.83 L286.21 387.67 L286.14 388.51 L285.93 389.33 L285.59 390.11 L285.15 390.83 L284.62 391.5 L284.05 392.13 L283.45 392.73 L282.83 393.33 L282.19 393.93 L281.51 394.55 L280.78 395.15 L279.98 395.73 L279.11 396.24 L278.17 396.65 L277.17 396.92 L276.14 397.05 L275.1 397.01 L274.07 396.84 L273.06 396.55 L272.09 396.15 L271.14 395.69 L270.23 395.17 L269.34 394.59 L268.48 393.94 L267.69 393.21 L266.98 392.39 L266.39 391.47 L265.96 390.48 L265.7 389.42 L265.64 388.34 L265.75 387.26 L266.02 386.22 L266.39 385.25 L266.83 384.34 L267.28 383.5 L267.72 382.72 L268.14 381.96 L268.54 381.22 L268.94 380.5 L269.36 379.78 L269.83 379.09 L270.38 378.45 L271.01 377.9 L271.71 377.45 L272.47 377.11 L273.28 376.9 L274.1 376.8 L274.91 376.79 L275.69 376.85 L276.39 376.34 L277.17 375.85 L278.03 375.45 L278.95 375.15 L279.93 374.97 L280.93 374.93 L281.92 375.07 L282.87 375.38 L283.73 375.89 L284.46 376.56 L285.06 377.36 L285.5 378.26 L285.8 379.2 L285.99 380.16 L286.07 381.1 L286.08 382.01 L286.01 382.88 L285.86 383.72 L285.61 384.51Z" fill="#ad4643"/>
<path d="M322.25 384.58 L322.39 385.53 L322.37 386.5 L322.2 387.45 L321.87 388.37 L321.43 389.23 L320.9 390.03 L320.31 390.78 L319.7 391.5 L319.09 392.21 L318.46 392.93 L317.82 393.66 L317.14 394.41 L316.39 395.15 L315.56 395.84 L314.63 396.44 L313.63 396.9 L312.56 397.2 L311.46 397.32 L310.35 397.26 L309.26 397.04 L308.21 396.68 L307.22 396.22 L306.27 395.69 L305.37 395.11 L304.52 394.49 L303.7 393.82 L302.94 393.09 L302.25 392.3 L301.66 391.44 L301.19 390.51 L300.85 389.52 L300.67 388.5 L300.63 387.48 L300.7 386.47 L300.87 385.5 L301.09 384.58 L301.35 383.69 L301.62 382.84 L301.9 382.02 L302.2 381.21 L302.55 380.42 L302.96 379.67 L303.44 378.96 L303.93 378.26 L304.27 377.39 L304.79 376.63 L305.46 376.01 L306.23 375.53 L307.08 375.19 L307.96 374.96 L308.84 374.8 L309.72 374.7 L310.59 374.62 L311.46 374.55 L312.34 374.5 L313.24 374.47 L314.15 374.51 L315.07 374.63 L315.98 374.87 L316.84 375.24 L317.64 375.75 L318.34 376.38 L318.92 377.11 L319.38 377.93 L319.72 378.79 L319.93 379.69 L320.1 380.55 L320.63 381.24 L321.13 381.98 L321.59 382.79 L321.97 383.66Z" fill="#962a36"/>
<path d="M321.25 384.58 L321.39 385.45 L321.39 386.33 L321.23 387.19 L320.93 388.03 L320.52 388.8 L320.03 389.53 L319.49 390.2 L318.94 390.85 L318.38 391.5 L317.82 392.16 L317.25 392.85 L316.64 393.55 L315.96 394.24 L315.21 394.9 L314.38 395.47 L313.46 395.92 L312.47 396.21 L311.46 396.32 L310.43 396.27 L309.43 396.06 L308.47 395.72 L307.56 395.28 L306.7 394.79 L305.87 394.24 L305.09 393.67 L304.35 393.05 L303.65 392.38 L303.02 391.66 L302.48 390.86 L302.05 390.01 L301.76 389.1 L301.61 388.16 L301.59 387.22 L301.69 386.3 L301.86 385.42 L302.09 384.58 L302.34 383.78 L302.6 383.01 L302.87 382.27 L303.14 381.55 L303.46 380.85 L303.82 380.17 L304.26 379.54 L304.69 378.9 L304.98 378.1 L305.44 377.4 L306.03 376.83 L306.73 376.4 L307.5 376.09 L308.3 375.9 L309.1 375.77 L309.89 375.69 L310.67 375.62 L311.46 375.55 L312.25 375.49 L313.06 375.46 L313.89 375.48 L314.73 375.57 L315.56 375.78 L316.34 376.11 L317.06 376.57 L317.69 377.14 L318.21 377.82 L318.62 378.57 L318.9 379.36 L319.06 380.19 L319.19 380.97 L319.69 381.58 L320.17 382.24 L320.61 382.96 L320.98 383.74Z" fill="#a13232"/>
<path d="M351.25 387.62 L351.48 388.28 L351.61 388.97 L351.65 389.69 L351.6 390.41 L351.47 391.13 L351.28 391.86 L351.05 392.6 L350.79 393.37 L350.49 394.17 L350.14 395.02 L349.73 395.9 L349.23 396.79 L348.62 397.66 L347.89 398.47 L347.03 399.17 L346.07 399.73 L345.03 400.11 L343.94 400.32 L342.82 400.35 L341.71 400.23 L340.62 399.99 L339.56 399.64 L338.54 399.19 L337.57 398.64 L336.67 398 L335.86 397.25 L335.16 396.39 L334.62 395.44 L334.25 394.41 L334.05 393.33 L334.02 392.24 L334.14 391.19 L334.38 390.18 L334.68 389.25 L335.01 388.4 L335.34 387.62 L335.66 386.9 L335.95 386.21 L336.24 385.56 L336.53 384.92 L336.85 384.32 L337.22 383.74 L337.65 383.22 L338.15 382.77 L338.7 382.39 L339.3 382.09 L339.92 381.88 L340.54 381.74 L340.99 381.29 L340.91 379.29 L341.27 377.69 L341.94 376.32 L342.85 375.19 L343.94 374.31 L345.15 373.74 L346.43 373.5 L347.69 373.63 L348.85 374.11 L349.87 374.91 L350.67 375.96 L351.25 377.18 L351.59 378.5 L351.72 379.83 L351.66 381.14 L351.41 382.39 L350.96 383.57 L350.22 384.69 L349.74 385.51 L350.16 385.95 L350.57 386.45 L350.94 387.01Z" fill="#962a36"/>
<path d="M350.25 387.62 L350.48 388.19 L350.63 388.8 L350.69 389.43 L350.66 390.07 L350.56 390.71 L350.42 391.36 L350.23 392.03 L350.02 392.73 L349.78 393.47 L349.5 394.25 L349.16 395.08 L348.73 395.92 L348.2 396.76 L347.54 397.53 L346.77 398.21 L345.9 398.75 L344.94 399.12 L343.94 399.32 L342.91 399.36 L341.89 399.25 L340.88 399.02 L339.91 398.7 L338.97 398.28 L338.07 397.78 L337.24 397.18 L336.5 396.48 L335.87 395.69 L335.39 394.8 L335.07 393.83 L334.92 392.83 L334.93 391.82 L335.08 390.84 L335.34 389.92 L335.66 389.08 L336.01 388.31 L336.34 387.62 L336.65 386.98 L336.94 386.39 L337.2 385.82 L337.47 385.27 L337.76 384.74 L338.09 384.24 L338.47 383.8 L338.92 383.41 L339.41 383.1 L339.94 382.86 L340.49 382.7 L341.04 382.61 L341.41 382.2 L341.25 380.23 L341.53 378.65 L342.12 377.31 L342.94 376.18 L343.94 375.31 L345.06 374.73 L346.25 374.49 L347.43 374.59 L348.51 375.05 L349.44 375.81 L350.17 376.82 L350.67 378 L350.95 379.26 L351.02 380.54 L350.9 381.78 L350.59 382.96 L350.09 384.07 L349.31 385.11 L348.8 385.85 L349.2 386.21 L349.59 386.62 L349.95 387.1Z" fill="#c35a4c"/>
<path d="M382.16 390.5 L382.1 391.28 L382.02 392.05 L381.9 392.83 L381.73 393.6 L381.49 394.36 L381.16 395.1 L380.75 395.79 L380.26 396.42 L379.7 397 L379.08 397.51 L378.43 397.97 L377.76 398.4 L377.07 398.8 L376.36 399.18 L375.62 399.54 L374.85 399.86 L374.04 400.13 L373.2 400.31 L372.34 400.37 L371.47 400.3 L370.63 400.08 L369.84 399.72 L369.12 399.24 L368.48 398.68 L367.91 398.05 L367.41 397.4 L366.95 396.75 L366.51 396.11 L366.07 395.49 L365.64 394.87 L365.2 394.23 L364.78 393.56 L364.4 392.86 L364.09 392.11 L363.87 391.32 L363.76 390.5 L363.77 389.67 L363.89 388.86 L364.1 388.06 L364.4 387.3 L364.75 386.56 L365.14 385.85 L365.57 385.16 L366.04 384.49 L366.55 383.85 L367.11 383.24 L367.73 382.68 L368.41 382.21 L369.16 381.83 L369.95 381.56 L370.76 381.41 L371.59 381.36 L372.4 381.4 L373.2 381.51 L373.97 381.64 L374.74 381.79 L375.49 381.95 L376.26 382.1 L377.04 382.27 L377.83 382.48 L378.62 382.76 L379.38 383.13 L380.1 383.6 L380.73 384.18 L381.25 384.86 L381.66 385.62 L381.94 386.42 L382.11 387.26 L382.2 388.09 L382.22 388.91 L382.2 389.71Z" fill="#962a36"/>
<path d="M381.16 390.5 L381.1 391.19 L381.03 391.88 L380.93 392.57 L380.79 393.26 L380.58 393.94 L380.3 394.6 L379.93 395.21 L379.49 395.78 L378.99 396.29 L378.44 396.74 L377.86 397.16 L377.26 397.53 L376.65 397.89 L376.02 398.24 L375.36 398.57 L374.68 398.88 L373.96 399.13 L373.2 399.31 L372.42 399.37 L371.65 399.31 L370.89 399.11 L370.19 398.78 L369.54 398.34 L368.98 397.81 L368.49 397.23 L368.05 396.64 L367.65 396.05 L367.27 395.47 L366.89 394.92 L366.5 394.37 L366.11 393.81 L365.72 393.22 L365.37 392.6 L365.07 391.93 L364.86 391.23 L364.76 390.5 L364.76 389.76 L364.87 389.03 L365.07 388.32 L365.34 387.64 L365.66 386.98 L366.01 386.35 L366.39 385.73 L366.8 385.13 L367.25 384.55 L367.75 384 L368.3 383.5 L368.91 383.07 L369.58 382.73 L370.29 382.5 L371.02 382.37 L371.76 382.35 L372.49 382.4 L373.2 382.51 L373.89 382.64 L374.56 382.78 L375.23 382.91 L375.91 383.04 L376.61 383.18 L377.33 383.35 L378.04 383.58 L378.74 383.9 L379.39 384.31 L379.96 384.83 L380.43 385.44 L380.79 386.12 L381.03 386.85 L381.17 387.6 L381.23 388.35 L381.23 389.08 L381.2 389.8Z" fill="#b74e4b"/>
<path d="M413.33 389.5 L413.14 390.26 L412.87 390.99 L412.55 391.68 L412.21 392.34 L411.87 392.98 L411.54 393.62 L411.22 394.28 L410.89 394.94 L410.53 395.63 L410.11 396.3 L409.62 396.95 L409.04 397.55 L408.39 398.05 L407.65 398.44 L406.87 398.71 L406.05 398.86 L405.22 398.9 L404.4 398.85 L403.59 398.73 L402.8 398.56 L402.03 398.34 L401.28 398.08 L400.54 397.77 L399.84 397.41 L399.17 396.97 L398.57 396.45 L398.03 395.87 L397.58 395.22 L397.22 394.53 L396.94 393.81 L396.72 393.08 L396.55 392.36 L396.39 391.65 L396.24 390.94 L396.09 390.23 L395.93 389.5 L395.8 388.75 L395.7 387.97 L395.68 387.16 L395.76 386.35 L395.95 385.56 L396.27 384.81 L396.71 384.12 L397.26 383.51 L397.88 382.98 L398.56 382.54 L399.26 382.17 L399.98 381.84 L400.69 381.55 L401.4 381.27 L402.13 381.01 L402.86 380.78 L403.62 380.58 L404.4 380.45 L405.2 380.41 L405.99 380.47 L406.77 380.64 L407.53 380.91 L408.24 381.27 L408.9 381.7 L409.53 382.18 L410.11 382.69 L410.68 383.22 L411.22 383.78 L411.73 384.37 L412.21 384.99 L412.64 385.66 L413 386.37 L413.26 387.13 L413.4 387.91 L413.43 388.71Z" fill="#962a36"/>
<path d="M412.33 389.5 L412.14 390.18 L411.88 390.82 L411.58 391.42 L411.27 392 L410.97 392.56 L410.68 393.12 L410.4 393.7 L410.12 394.3 L409.82 394.92 L409.47 395.54 L409.05 396.13 L408.54 396.68 L407.96 397.14 L407.31 397.5 L406.61 397.75 L405.88 397.88 L405.14 397.91 L404.4 397.85 L403.68 397.74 L402.98 397.58 L402.29 397.38 L401.62 397.14 L400.96 396.87 L400.34 396.54 L399.75 396.15 L399.21 395.69 L398.74 395.16 L398.35 394.58 L398.04 393.95 L397.81 393.31 L397.63 392.66 L397.49 392.02 L397.36 391.39 L397.23 390.76 L397.08 390.14 L396.93 389.5 L396.79 388.83 L396.69 388.14 L396.65 387.42 L396.7 386.7 L396.86 385.98 L397.14 385.31 L397.53 384.69 L398.02 384.15 L398.59 383.69 L399.2 383.31 L399.84 382.99 L400.48 382.71 L401.11 382.45 L401.75 382.21 L402.38 381.98 L403.04 381.76 L403.71 381.58 L404.4 381.45 L405.11 381.41 L405.82 381.46 L406.52 381.61 L407.18 381.85 L407.81 382.18 L408.4 382.57 L408.95 383 L409.47 383.46 L409.97 383.93 L410.45 384.42 L410.91 384.94 L411.35 385.49 L411.74 386.08 L412.06 386.71 L412.29 387.38 L412.42 388.09 L412.43 388.8Z" fill="#b54c4b"/>
<path d="M438.29 391.6 L438.42 392.29 L438.49 393.01 L438.47 393.74 L438.35 394.46 L438.12 395.15 L437.8 395.81 L437.38 396.42 L436.91 396.97 L436.38 397.48 L435.82 397.94 L435.24 398.37 L434.64 398.77 L434.02 399.14 L433.36 399.47 L432.68 399.74 L431.97 399.94 L431.24 400.04 L430.5 400.05 L429.77 399.95 L429.06 399.75 L428.39 399.48 L427.75 399.15 L427.15 398.79 L426.56 398.42 L425.99 398.05 L425.41 397.66 L424.84 397.26 L424.27 396.83 L423.72 396.35 L423.22 395.8 L422.8 395.19 L422.47 394.52 L422.25 393.81 L422.15 393.07 L422.17 392.33 L422.29 391.6 L422.47 390.9 L422.71 390.23 L422.97 389.58 L423.23 388.95 L423.5 388.34 L423.78 387.72 L424.07 387.1 L424.41 386.49 L424.79 385.89 L425.24 385.34 L425.76 384.84 L426.35 384.41 L426.98 384.05 L427.65 383.78 L428.35 383.57 L429.06 383.42 L429.78 383.31 L430.5 383.25 L431.23 383.22 L431.98 383.23 L432.72 383.31 L433.46 383.46 L434.18 383.71 L434.86 384.06 L435.46 384.51 L435.99 385.06 L436.42 385.68 L436.77 386.34 L437.03 387.02 L437.24 387.71 L437.42 388.37 L437.58 389.02 L437.75 389.66 L437.93 390.29 L438.12 390.93Z" fill="#962a36"/>
<path d="M437.29 391.6 L437.42 392.21 L437.5 392.83 L437.5 393.48 L437.41 394.11 L437.22 394.73 L436.93 395.31 L436.56 395.85 L436.14 396.33 L435.67 396.77 L435.18 397.18 L434.67 397.55 L434.14 397.91 L433.59 398.23 L433.02 398.53 L432.42 398.77 L431.8 398.95 L431.15 399.05 L430.5 399.05 L429.86 398.95 L429.24 398.77 L428.65 398.51 L428.09 398.21 L427.57 397.89 L427.06 397.56 L426.56 397.23 L426.06 396.9 L425.55 396.55 L425.04 396.18 L424.54 395.77 L424.09 395.3 L423.7 394.77 L423.41 394.18 L423.22 393.55 L423.14 392.9 L423.17 392.24 L423.29 391.6 L423.47 390.99 L423.69 390.4 L423.93 389.84 L424.17 389.3 L424.41 388.76 L424.64 388.22 L424.89 387.67 L425.17 387.13 L425.5 386.6 L425.89 386.1 L426.34 385.66 L426.85 385.27 L427.4 384.96 L427.99 384.71 L428.61 384.53 L429.23 384.4 L429.86 384.31 L430.5 384.25 L431.15 384.21 L431.8 384.22 L432.46 384.27 L433.12 384.4 L433.76 384.61 L434.36 384.92 L434.89 385.33 L435.35 385.82 L435.72 386.38 L436 386.98 L436.22 387.6 L436.38 388.21 L436.51 388.8 L436.64 389.36 L436.79 389.92 L436.95 390.46 L437.12 391.02Z" fill="#ae423f"/>
<path d="M462.69 392.2 L462.94 393.03 L463.02 393.88 L462.92 394.72 L462.62 395.52 L462.16 396.24 L461.56 396.85 L460.88 397.36 L460.15 397.78 L459.42 398.12 L458.7 398.4 L458.01 398.64 L457.34 398.84 L456.68 399.02 L456.04 399.17 L455.39 399.27 L454.76 399.32 L454.12 399.32 L453.5 399.25 L452.89 399.14 L452.3 398.99 L451.73 398.81 L451.17 398.62 L450.6 398.42 L450.02 398.22 L449.42 398.02 L448.8 397.8 L448.16 397.54 L447.51 397.23 L446.87 396.84 L446.28 396.37 L445.75 395.81 L445.32 395.18 L445 394.48 L444.8 393.73 L444.71 392.97 L444.72 392.2 L444.81 391.44 L444.95 390.69 L445.15 389.96 L445.38 389.24 L445.66 388.54 L446 387.87 L446.41 387.23 L446.89 386.65 L447.45 386.15 L448.08 385.74 L448.75 385.42 L449.46 385.2 L450.17 385.06 L450.88 384.99 L451.56 384.97 L452.23 384.98 L452.87 385.01 L453.5 385.05 L454.12 385.1 L454.74 385.18 L455.35 385.28 L455.96 385.44 L456.55 385.65 L457.12 385.92 L457.66 386.26 L458.16 386.65 L458.62 387.08 L459.06 387.53 L459.49 388 L459.92 388.49 L460.37 388.99 L460.85 389.52 L461.35 390.1 L461.84 390.73 L462.31 391.43Z" fill="#962a36"/>
<path d="M461.69 392.2 L461.94 392.94 L462.04 393.71 L461.95 394.47 L461.68 395.18 L461.25 395.81 L460.69 396.35 L460.06 396.79 L459.38 397.14 L458.71 397.41 L458.06 397.63 L457.43 397.82 L456.84 397.98 L456.26 398.12 L455.69 398.23 L455.14 398.3 L454.58 398.34 L454.04 398.32 L453.5 398.25 L452.98 398.14 L452.48 398 L451.99 397.84 L451.51 397.68 L451.02 397.51 L450.52 397.36 L450 397.2 L449.44 397.03 L448.87 396.83 L448.27 396.58 L447.69 396.27 L447.14 395.87 L446.66 395.39 L446.26 394.84 L445.97 394.22 L445.78 393.56 L445.71 392.88 L445.72 392.2 L445.8 391.53 L445.94 390.87 L446.11 390.22 L446.32 389.59 L446.57 388.97 L446.86 388.37 L447.23 387.81 L447.66 387.3 L448.16 386.86 L448.72 386.5 L449.33 386.24 L449.96 386.06 L450.59 385.97 L451.22 385.93 L451.82 385.94 L452.4 385.97 L452.96 386.01 L453.5 386.05 L454.03 386.1 L454.56 386.16 L455.09 386.25 L455.62 386.38 L456.13 386.56 L456.62 386.79 L457.09 387.08 L457.52 387.41 L457.92 387.78 L458.3 388.17 L458.67 388.58 L459.06 388.99 L459.47 389.42 L459.91 389.87 L460.38 390.36 L460.86 390.9 L461.31 391.52Z" fill="#aa3e3d"/>
<path d="M292.42 422.2 L292.07 423.27 L291.54 424.25 L290.89 425.14 L290.18 425.94 L289.47 426.66 L288.78 427.33 L288.11 427.95 L287.44 428.53 L286.77 429.07 L286.07 429.56 L285.34 429.97 L284.58 430.3 L283.79 430.54 L282.99 430.68 L282.19 430.73 L281.4 430.71 L280.64 430.65 L279.9 430.56 L279.18 430.46 L278.46 430.36 L277.74 430.27 L277 430.18 L276.23 430.07 L275.44 429.92 L274.63 429.72 L273.82 429.45 L273.01 429.09 L272.22 428.64 L271.46 428.11 L270.73 427.49 L270.04 426.8 L269.38 426.03 L268.76 425.18 L268.21 424.26 L267.74 423.26 L267.42 422.2 L267.29 421.1 L267.38 419.99 L267.7 418.93 L268.26 417.96 L269.01 417.12 L269.91 416.43 L270.91 415.9 L271.93 415.51 L272.94 415.24 L273.91 415.06 L274.8 414.92 L275.63 414.8 L276.39 414.68 L277.11 414.54 L277.81 414.39 L278.49 414.23 L279.19 414.08 L279.9 413.96 L280.63 413.89 L281.37 413.88 L282.12 413.93 L282.87 414.04 L283.62 414.21 L284.39 414.42 L285.17 414.67 L285.99 414.95 L286.84 415.26 L287.74 415.63 L288.66 416.06 L289.6 416.6 L290.5 417.26 L291.3 418.05 L291.95 418.97 L292.37 420 L292.53 421.1Z" fill="#962a36"/>
<path d="M291.42 422.2 L291.08 423.18 L290.55 424.08 L289.92 424.89 L289.24 425.6 L288.57 426.24 L287.91 426.83 L287.29 427.37 L286.68 427.89 L286.06 428.36 L285.43 428.79 L284.77 429.15 L284.08 429.44 L283.37 429.63 L282.64 429.74 L281.93 429.76 L281.23 429.73 L280.55 429.65 L279.9 429.56 L279.26 429.46 L278.63 429.38 L278 429.31 L277.34 429.24 L276.65 429.16 L275.94 429.06 L275.21 428.9 L274.46 428.68 L273.72 428.38 L272.99 428 L272.28 427.53 L271.6 426.99 L270.95 426.38 L270.32 425.69 L269.73 424.93 L269.19 424.09 L268.74 423.18 L268.42 422.2 L268.28 421.18 L268.36 420.17 L268.67 419.19 L269.2 418.31 L269.92 417.55 L270.78 416.93 L271.72 416.48 L272.7 416.16 L273.65 415.95 L274.55 415.82 L275.38 415.74 L276.13 415.67 L276.82 415.59 L277.45 415.48 L278.07 415.35 L278.67 415.21 L279.28 415.07 L279.9 414.96 L280.54 414.88 L281.19 414.86 L281.86 414.89 L282.53 414.98 L283.2 415.12 L283.89 415.29 L284.6 415.49 L285.34 415.71 L286.13 415.97 L286.97 416.27 L287.85 416.64 L288.73 417.1 L289.59 417.68 L290.36 418.39 L290.98 419.23 L291.38 420.18 L291.53 421.18Z" fill="#a83a39"/>
<path d="M314.25 420.62 L314.56 421.25 L314.78 421.92 L314.9 422.62 L314.92 423.35 L314.86 424.09 L314.74 424.84 L314.57 425.62 L314.35 426.42 L314.08 427.26 L313.74 428.13 L313.3 429 L312.75 429.83 L312.08 430.58 L311.28 431.19 L310.38 431.62 L309.41 431.84 L308.42 431.84 L307.44 431.63 L306.51 431.26 L305.65 430.74 L304.89 430.14 L304.21 429.48 L303.63 428.79 L303.13 428.08 L302.72 427.36 L302.4 426.63 L302.17 425.89 L302.04 425.15 L302.01 424.42 L302.07 423.72 L302.21 423.06 L302.4 422.46 L302.62 421.91 L302.38 421.52 L301.99 421.1 L301.59 420.62 L301.18 420.08 L300.76 419.45 L300.35 418.73 L299.99 417.92 L299.72 417.02 L299.56 416.08 L299.56 415.11 L299.74 414.17 L300.1 413.29 L300.63 412.51 L301.3 411.86 L302.07 411.33 L302.92 410.94 L303.81 410.65 L304.71 410.45 L305.62 410.33 L306.53 410.29 L307.44 410.35 L308.32 410.51 L309.17 410.81 L309.95 411.24 L310.65 411.81 L311.23 412.49 L311.69 413.26 L312.03 414.07 L312.25 414.89 L312.38 415.69 L312.43 416.44 L312.42 417.14 L312.37 417.78 L312.28 418.37 L312.39 418.82 L312.89 419.16 L313.39 419.58 L313.85 420.06Z" fill="#962a36"/>
<path d="M313.25 420.62 L313.57 421.16 L313.8 421.75 L313.93 422.37 L313.98 423.01 L313.95 423.66 L313.87 424.34 L313.75 425.04 L313.58 425.78 L313.37 426.56 L313.09 427.36 L312.73 428.18 L312.25 428.97 L311.66 429.67 L310.94 430.25 L310.12 430.65 L309.24 430.85 L308.33 430.84 L307.44 430.63 L306.59 430.26 L305.83 429.76 L305.15 429.18 L304.56 428.54 L304.05 427.89 L303.63 427.22 L303.29 426.54 L303.04 425.86 L302.88 425.18 L302.81 424.51 L302.83 423.85 L302.94 423.22 L303.11 422.64 L303.34 422.12 L303.59 421.66 L303.36 421.34 L302.99 421.01 L302.59 420.62 L302.17 420.16 L301.74 419.62 L301.32 418.99 L300.93 418.26 L300.62 417.45 L300.43 416.58 L300.38 415.68 L300.51 414.81 L300.81 413.99 L301.27 413.27 L301.87 412.67 L302.57 412.2 L303.34 411.84 L304.15 411.59 L304.97 411.41 L305.8 411.31 L306.62 411.29 L307.44 411.35 L308.24 411.51 L308.99 411.79 L309.69 412.21 L310.3 412.75 L310.81 413.4 L311.19 414.13 L311.45 414.89 L311.61 415.66 L311.67 416.39 L311.66 417.08 L311.6 417.71 L311.5 418.28 L311.38 418.79 L311.45 419.17 L311.93 419.42 L312.4 419.75 L312.85 420.15Z" fill="#c35e4e"/>
<path d="M336.09 423.6 L336 424.21 L335.92 424.82 L335.84 425.43 L335.76 426.06 L335.65 426.7 L335.49 427.35 L335.27 427.99 L334.96 428.6 L334.56 429.16 L334.08 429.65 L333.52 430.05 L332.91 430.37 L332.27 430.6 L331.61 430.76 L330.95 430.87 L330.29 430.94 L329.65 430.98 L329 431 L328.35 430.98 L327.71 430.93 L327.07 430.82 L326.44 430.64 L325.83 430.39 L325.27 430.06 L324.75 429.67 L324.28 429.23 L323.85 428.75 L323.46 428.25 L323.1 427.73 L322.74 427.21 L322.4 426.68 L322.06 426.13 L321.73 425.55 L321.45 424.93 L321.22 424.28 L321.09 423.6 L321.06 422.91 L321.15 422.22 L321.35 421.55 L321.66 420.93 L322.05 420.36 L322.5 419.85 L322.98 419.38 L323.47 418.96 L323.95 418.55 L324.43 418.16 L324.91 417.77 L325.41 417.38 L325.93 417.01 L326.48 416.67 L327.07 416.38 L327.69 416.17 L328.34 416.04 L329 416 L329.66 416.04 L330.31 416.16 L330.95 416.33 L331.57 416.54 L332.17 416.79 L332.77 417.07 L333.35 417.38 L333.92 417.74 L334.46 418.14 L334.95 418.6 L335.39 419.13 L335.74 419.71 L335.99 420.34 L336.15 421 L336.22 421.66 L336.22 422.33 L336.17 422.97Z" fill="#962a36"/>
<path d="M335.09 423.6 L335 424.13 L334.93 424.65 L334.87 425.17 L334.82 425.72 L334.74 426.28 L334.63 426.85 L334.45 427.41 L334.19 427.96 L333.85 428.45 L333.43 428.88 L332.94 429.23 L332.41 429.5 L331.84 429.7 L331.27 429.82 L330.69 429.91 L330.12 429.96 L329.56 429.99 L329 430 L328.44 429.99 L327.88 429.94 L327.32 429.85 L326.78 429.7 L326.26 429.48 L325.77 429.2 L325.32 428.85 L324.92 428.46 L324.56 428.04 L324.23 427.6 L323.92 427.16 L323.61 426.71 L323.3 426.26 L323 425.79 L322.7 425.29 L322.43 424.76 L322.22 424.19 L322.09 423.6 L322.05 422.99 L322.13 422.39 L322.32 421.81 L322.6 421.27 L322.96 420.78 L323.37 420.35 L323.8 419.96 L324.23 419.6 L324.66 419.26 L325.08 418.92 L325.49 418.58 L325.91 418.24 L326.35 417.91 L326.82 417.61 L327.33 417.35 L327.86 417.16 L328.43 417.04 L329 417 L329.57 417.04 L330.14 417.14 L330.69 417.29 L331.23 417.48 L331.75 417.7 L332.27 417.94 L332.78 418.2 L333.28 418.5 L333.75 418.85 L334.19 419.25 L334.57 419.7 L334.87 420.21 L335.09 420.76 L335.21 421.34 L335.26 421.92 L335.23 422.5 L335.17 423.06Z" fill="#a23635"/>
<path d="M355.03 421.2 L355.02 421.73 L355.02 422.26 L355.02 422.81 L355.01 423.39 L354.95 423.98 L354.84 424.57 L354.65 425.16 L354.38 425.71 L354.01 426.21 L353.57 426.65 L353.07 427.01 L352.52 427.29 L351.94 427.51 L351.36 427.67 L350.77 427.8 L350.18 427.89 L349.59 427.96 L349 428 L348.4 428.01 L347.81 427.96 L347.22 427.85 L346.65 427.66 L346.11 427.41 L345.61 427.08 L345.15 426.69 L344.75 426.27 L344.38 425.82 L344.04 425.36 L343.73 424.89 L343.42 424.42 L343.13 423.94 L342.86 423.44 L342.61 422.91 L342.41 422.36 L342.28 421.79 L342.23 421.2 L342.26 420.61 L342.38 420.03 L342.59 419.48 L342.86 418.97 L343.18 418.49 L343.52 418.04 L343.87 417.61 L344.22 417.19 L344.57 416.77 L344.92 416.33 L345.28 415.89 L345.68 415.45 L346.13 415.04 L346.62 414.67 L347.17 414.36 L347.76 414.14 L348.37 414.03 L349 414 L349.62 414.07 L350.23 414.21 L350.82 414.41 L351.38 414.66 L351.92 414.93 L352.44 415.24 L352.94 415.58 L353.4 415.96 L353.83 416.37 L354.2 416.84 L354.51 417.34 L354.74 417.88 L354.91 418.45 L355 419.02 L355.05 419.58 L355.05 420.13 L355.04 420.67Z" fill="#962a36"/>
<path d="M354.03 421.2 L354.02 421.64 L354.04 422.09 L354.06 422.56 L354.07 423.04 L354.05 423.55 L353.98 424.07 L353.83 424.58 L353.61 425.07 L353.31 425.51 L352.93 425.88 L352.49 426.19 L352.02 426.43 L351.52 426.6 L351.01 426.73 L350.51 426.83 L350.01 426.91 L349.5 426.97 L349 427 L348.49 427.01 L347.98 426.97 L347.48 426.88 L346.99 426.72 L346.53 426.5 L346.11 426.21 L345.73 425.88 L345.39 425.5 L345.09 425.11 L344.81 424.72 L344.55 424.32 L344.29 423.92 L344.04 423.51 L343.8 423.09 L343.58 422.65 L343.4 422.19 L343.28 421.7 L343.23 421.2 L343.26 420.7 L343.37 420.21 L343.56 419.74 L343.8 419.31 L344.09 418.91 L344.39 418.54 L344.69 418.18 L344.99 417.83 L345.27 417.47 L345.56 417.1 L345.86 416.71 L346.18 416.32 L346.55 415.94 L346.96 415.61 L347.43 415.33 L347.93 415.13 L348.46 415.02 L349 415 L349.54 415.07 L350.06 415.2 L350.56 415.38 L351.04 415.6 L351.5 415.84 L351.94 416.11 L352.36 416.4 L352.76 416.72 L353.12 417.08 L353.43 417.48 L353.69 417.92 L353.88 418.38 L354 418.87 L354.06 419.36 L354.08 419.84 L354.07 420.31 L354.04 420.76Z" fill="#b7544b"/>
<path d="M376.85 421.4 L376.87 422 L376.88 422.61 L376.87 423.24 L376.82 423.88 L376.7 424.53 L376.51 425.16 L376.22 425.76 L375.86 426.31 L375.41 426.81 L374.91 427.26 L374.37 427.64 L373.8 427.98 L373.21 428.28 L372.6 428.54 L371.97 428.77 L371.33 428.96 L370.67 429.1 L370 429.16 L369.32 429.14 L368.65 429.03 L368.01 428.82 L367.41 428.52 L366.85 428.15 L366.35 427.72 L365.89 427.27 L365.46 426.81 L365.04 426.36 L364.63 425.9 L364.22 425.45 L363.8 424.98 L363.39 424.48 L363.01 423.94 L362.69 423.36 L362.44 422.73 L362.29 422.07 L362.25 421.4 L362.32 420.73 L362.49 420.08 L362.74 419.45 L363.04 418.87 L363.38 418.31 L363.74 417.79 L364.11 417.27 L364.49 416.78 L364.88 416.28 L365.31 415.81 L365.77 415.36 L366.28 414.95 L366.83 414.6 L367.43 414.33 L368.05 414.13 L368.7 414.01 L369.35 413.96 L370 413.96 L370.65 414.01 L371.29 414.08 L371.94 414.18 L372.58 414.31 L373.23 414.47 L373.87 414.7 L374.49 414.99 L375.06 415.37 L375.57 415.83 L376 416.37 L376.33 416.97 L376.57 417.61 L376.72 418.27 L376.8 418.93 L376.83 419.57 L376.84 420.19 L376.84 420.8Z" fill="#962a36"/>
<path d="M375.85 421.4 L375.87 421.91 L375.9 422.44 L375.91 422.98 L375.88 423.54 L375.8 424.1 L375.64 424.66 L375.4 425.18 L375.09 425.67 L374.71 426.11 L374.27 426.49 L373.8 426.82 L373.3 427.11 L372.78 427.37 L372.26 427.6 L371.72 427.8 L371.16 427.98 L370.59 428.1 L370 428.16 L369.41 428.15 L368.83 428.04 L368.27 427.85 L367.75 427.58 L367.28 427.24 L366.85 426.86 L366.46 426.46 L366.1 426.05 L365.75 425.65 L365.4 425.26 L365.04 424.88 L364.67 424.48 L364.3 424.06 L363.95 423.6 L363.65 423.1 L363.43 422.56 L363.29 421.99 L363.25 421.4 L363.32 420.82 L363.47 420.25 L363.7 419.71 L363.98 419.21 L364.29 418.74 L364.61 418.29 L364.93 417.85 L365.25 417.42 L365.59 416.99 L365.95 416.57 L366.34 416.18 L366.78 415.82 L367.25 415.51 L367.77 415.27 L368.31 415.1 L368.87 414.99 L369.44 414.95 L370 414.96 L370.56 415 L371.12 415.06 L371.68 415.14 L372.24 415.25 L372.81 415.38 L373.37 415.56 L373.91 415.81 L374.42 416.13 L374.87 416.53 L375.23 417.01 L375.51 417.54 L375.7 418.11 L375.81 418.69 L375.86 419.27 L375.86 419.83 L375.85 420.37 L375.84 420.89Z" fill="#af4441"/>
<path d="M397.06 422.2 L397.11 422.75 L397.13 423.32 L397.09 423.89 L396.99 424.45 L396.8 425 L396.54 425.52 L396.21 425.99 L395.82 426.41 L395.38 426.78 L394.92 427.11 L394.45 427.41 L393.96 427.68 L393.47 427.92 L392.96 428.14 L392.44 428.33 L391.91 428.47 L391.36 428.57 L390.8 428.59 L390.25 428.54 L389.7 428.42 L389.19 428.22 L388.7 427.98 L388.24 427.69 L387.8 427.39 L387.38 427.08 L386.97 426.77 L386.54 426.46 L386.1 426.14 L385.66 425.8 L385.22 425.42 L384.8 425 L384.43 424.52 L384.14 423.98 L383.94 423.41 L383.85 422.81 L383.86 422.2 L383.97 421.6 L384.16 421.03 L384.4 420.49 L384.68 419.97 L384.98 419.49 L385.3 419.02 L385.63 418.58 L385.97 418.15 L386.35 417.75 L386.75 417.38 L387.19 417.05 L387.67 416.78 L388.17 416.56 L388.69 416.4 L389.22 416.3 L389.75 416.24 L390.28 416.21 L390.8 416.19 L391.33 416.18 L391.86 416.18 L392.41 416.2 L392.97 416.24 L393.54 416.33 L394.1 416.49 L394.64 416.72 L395.14 417.03 L395.58 417.42 L395.95 417.88 L396.24 418.39 L396.46 418.93 L396.63 419.48 L396.74 420.04 L396.84 420.58 L396.92 421.12 L396.99 421.66Z" fill="#962a36"/>
<path d="M396.06 422.2 L396.12 422.67 L396.15 423.14 L396.13 423.63 L396.05 424.11 L395.9 424.58 L395.68 425.02 L395.39 425.41 L395.05 425.77 L394.68 426.08 L394.28 426.35 L393.87 426.59 L393.46 426.81 L393.04 427.01 L392.62 427.2 L392.18 427.36 L391.73 427.49 L391.27 427.57 L390.8 427.59 L390.33 427.54 L389.88 427.43 L389.44 427.26 L389.04 427.04 L388.66 426.79 L388.3 426.52 L387.96 426.26 L387.61 426 L387.25 425.75 L386.87 425.5 L386.48 425.23 L386.08 424.92 L385.71 424.57 L385.37 424.17 L385.11 423.73 L384.93 423.24 L384.85 422.72 L384.86 422.2 L384.97 421.69 L385.14 421.2 L385.37 420.74 L385.62 420.31 L385.89 419.91 L386.16 419.52 L386.44 419.15 L386.74 418.79 L387.05 418.45 L387.39 418.14 L387.77 417.87 L388.17 417.64 L388.59 417.47 L389.03 417.34 L389.48 417.27 L389.92 417.22 L390.36 417.2 L390.8 417.19 L391.24 417.18 L391.69 417.17 L392.15 417.16 L392.63 417.18 L393.11 417.24 L393.6 417.35 L394.07 417.54 L394.5 417.8 L394.87 418.13 L395.18 418.52 L395.42 418.96 L395.6 419.43 L395.72 419.91 L395.8 420.38 L395.87 420.84 L395.93 421.29 L396 421.75Z" fill="#a83a39"/>
<path d="M415.62 422.5 L415.62 423.03 L415.59 423.56 L415.52 424.09 L415.39 424.61 L415.21 425.12 L414.97 425.6 L414.69 426.06 L414.36 426.5 L414.01 426.91 L413.64 427.32 L413.25 427.72 L412.84 428.12 L412.4 428.51 L411.93 428.9 L411.41 429.25 L410.84 429.54 L410.23 429.74 L409.6 429.83 L408.96 429.8 L408.34 429.65 L407.76 429.38 L407.23 429.03 L406.75 428.61 L406.33 428.16 L405.95 427.71 L405.61 427.26 L405.28 426.82 L404.95 426.4 L404.64 425.97 L404.34 425.54 L404.06 425.08 L403.82 424.6 L403.63 424.1 L403.49 423.58 L403.43 423.04 L403.42 422.5 L403.46 421.96 L403.54 421.43 L403.65 420.91 L403.78 420.38 L403.93 419.86 L404.11 419.33 L404.31 418.8 L404.57 418.28 L404.87 417.77 L405.24 417.31 L405.68 416.9 L406.17 416.56 L406.71 416.31 L407.28 416.14 L407.87 416.04 L408.45 416 L409.03 416.01 L409.6 416.03 L410.16 416.07 L410.73 416.11 L411.3 416.17 L411.87 416.26 L412.44 416.4 L413 416.61 L413.53 416.89 L414.01 417.25 L414.42 417.68 L414.75 418.18 L415.01 418.71 L415.2 419.26 L415.34 419.82 L415.43 420.38 L415.5 420.92 L415.55 421.45 L415.59 421.98Z" fill="#962a36"/>
<path d="M414.62 422.5 L414.62 422.94 L414.61 423.38 L414.55 423.83 L414.46 424.27 L414.31 424.69 L414.11 425.1 L413.87 425.49 L413.6 425.85 L413.31 426.21 L413 426.55 L412.68 426.9 L412.34 427.25 L411.98 427.61 L411.59 427.96 L411.15 428.28 L410.67 428.55 L410.15 428.74 L409.6 428.83 L409.05 428.8 L408.51 428.66 L408.02 428.41 L407.57 428.09 L407.17 427.7 L406.83 427.3 L406.53 426.89 L406.25 426.49 L405.98 426.12 L405.72 425.76 L405.46 425.4 L405.2 425.04 L404.97 424.66 L404.76 424.26 L404.59 423.84 L404.48 423.4 L404.42 422.95 L404.42 422.5 L404.45 422.05 L404.52 421.6 L404.61 421.16 L404.72 420.72 L404.84 420.28 L404.97 419.83 L405.13 419.37 L405.33 418.92 L405.58 418.48 L405.89 418.07 L406.25 417.72 L406.67 417.43 L407.14 417.21 L407.63 417.08 L408.13 417.01 L408.63 416.99 L409.12 417 L409.6 417.03 L410.08 417.06 L410.55 417.1 L411.04 417.14 L411.53 417.2 L412.02 417.31 L412.5 417.47 L412.96 417.71 L413.36 418.02 L413.71 418.39 L413.99 418.82 L414.19 419.28 L414.34 419.76 L414.43 420.25 L414.49 420.72 L414.53 421.18 L414.56 421.62 L414.59 422.06Z" fill="#bf584e"/>
<path d="M432.5 423.9 L432.52 424.37 L432.49 424.83 L432.42 425.3 L432.29 425.75 L432.1 426.19 L431.87 426.59 L431.59 426.97 L431.29 427.33 L430.96 427.66 L430.63 427.99 L430.3 428.32 L429.95 428.66 L429.58 429.01 L429.19 429.36 L428.75 429.69 L428.27 429.97 L427.75 430.19 L427.2 430.31 L426.64 430.32 L426.09 430.22 L425.56 430.01 L425.08 429.72 L424.65 429.37 L424.26 428.99 L423.92 428.58 L423.61 428.17 L423.33 427.77 L423.07 427.37 L422.83 426.96 L422.6 426.55 L422.41 426.13 L422.26 425.7 L422.15 425.25 L422.09 424.8 L422.08 424.35 L422.1 423.9 L422.14 423.46 L422.21 423.02 L422.28 422.58 L422.36 422.14 L422.44 421.68 L422.54 421.21 L422.66 420.72 L422.83 420.23 L423.05 419.75 L423.34 419.3 L423.7 418.9 L424.12 418.56 L424.59 418.31 L425.1 418.14 L425.63 418.05 L426.16 418.03 L426.69 418.05 L427.2 418.11 L427.7 418.18 L428.19 418.27 L428.68 418.38 L429.16 418.5 L429.64 418.67 L430.1 418.88 L430.52 419.15 L430.91 419.48 L431.25 419.85 L431.53 420.27 L431.76 420.71 L431.94 421.17 L432.08 421.62 L432.2 422.08 L432.29 422.54 L432.38 422.99 L432.45 423.44Z" fill="#962a36"/>
<path d="M431.5 423.9 L431.52 424.28 L431.51 424.66 L431.45 425.04 L431.35 425.41 L431.2 425.76 L431 426.09 L430.77 426.4 L430.52 426.69 L430.26 426.96 L429.99 427.23 L429.72 427.5 L429.45 427.8 L429.16 428.11 L428.85 428.42 L428.49 428.72 L428.1 428.99 L427.66 429.19 L427.2 429.31 L426.73 429.32 L426.26 429.23 L425.82 429.05 L425.42 428.79 L425.07 428.47 L424.76 428.12 L424.5 427.76 L424.26 427.41 L424.04 427.06 L423.83 426.72 L423.64 426.39 L423.47 426.05 L423.32 425.71 L423.2 425.36 L423.12 424.99 L423.08 424.63 L423.07 424.26 L423.1 423.9 L423.14 423.54 L423.19 423.19 L423.25 422.84 L423.3 422.48 L423.34 422.1 L423.4 421.71 L423.48 421.29 L423.59 420.87 L423.76 420.46 L423.98 420.06 L424.27 419.72 L424.62 419.43 L425.02 419.22 L425.45 419.08 L425.89 419.02 L426.34 419.01 L426.78 419.05 L427.2 419.11 L427.61 419.18 L428.02 419.26 L428.42 419.34 L428.82 419.44 L429.22 419.58 L429.6 419.75 L429.95 419.97 L430.27 420.24 L430.54 420.56 L430.76 420.91 L430.94 421.28 L431.07 421.67 L431.17 422.05 L431.26 422.42 L431.33 422.79 L431.39 423.16 L431.45 423.53Z" fill="#b74e4b"/>
</g>
<g filter="url(#blur1)">
<ellipse cx="275.8" cy="387" rx="5.94" ry="5.5" fill="#d0766b" opacity="0.55"/>
<ellipse cx="271.82" cy="386" rx="3.87" ry="3.44" fill="#d0766b" opacity="0.8"/>
<ellipse cx="277.51" cy="385.79" rx="3.93" ry="3.14" fill="#d0766b" opacity="0.8"/>
<ellipse cx="271.18" cy="386.01" rx="2.47" ry="3.84" fill="#d0766b" opacity="0.8"/>
<ellipse cx="279.61" cy="384.82" rx="2.98" ry="3.55" fill="#d0766b" opacity="0.8"/>
<ellipse cx="273.24" cy="384.17" rx="2.7" ry="2.2" fill="#8a1e2e" opacity="0.5"/>
<ellipse cx="273.11" cy="385.65" rx="2.7" ry="2.2" fill="#8a1e2e" opacity="0.5"/>
<ellipse cx="311.2" cy="386.5" rx="5.94" ry="5.1" fill="#c75c5b" opacity="0.55"/>
<ellipse cx="311.45" cy="383.19" rx="4.25" ry="3.55" fill="#c75c5b" opacity="0.8"/>
<ellipse cx="310.34" cy="387.49" rx="2.79" ry="2.4" fill="#c75c5b" opacity="0.8"/>
<ellipse cx="308.6" cy="387.76" rx="2.79" ry="3.62" fill="#c75c5b" opacity="0.8"/>
<ellipse cx="306.48" cy="383.17" rx="2.55" ry="3.3" fill="#c75c5b" opacity="0.8"/>
<ellipse cx="310.05" cy="386.27" rx="2.7" ry="2.04" fill="#8a1e2e" opacity="0.5"/>
<ellipse cx="309.7" cy="387.62" rx="2.7" ry="2.04" fill="#8a1e2e" opacity="0.5"/>
<ellipse cx="342.8" cy="391" rx="4.73" ry="4.7" fill="#e08570" opacity="0.55"/>
<ellipse cx="339.65" cy="391.51" rx="2.15" ry="2.95" fill="#e08570" opacity="0.8"/>
<ellipse cx="343.2" cy="389.55" rx="2.85" ry="2.73" fill="#e08570" opacity="0.8"/>
<ellipse cx="338.83" cy="390.78" rx="2.85" ry="2.66" fill="#e08570" opacity="0.8"/>
<ellipse cx="345.31" cy="392.52" rx="2.48" ry="2.22" fill="#e08570" opacity="0.8"/>
<ellipse cx="340.24" cy="393.33" rx="2.15" ry="1.88" fill="#8a1e2e" opacity="0.5"/>
<ellipse cx="344.11" cy="391.82" rx="2.15" ry="1.88" fill="#8a1e2e" opacity="0.5"/>
<ellipse cx="373.2" cy="390.5" rx="5.06" ry="4.7" fill="#d88175" opacity="0.55"/>
<ellipse cx="376.71" cy="389.66" rx="3.21" ry="2.99" fill="#d88175" opacity="0.8"/>
<ellipse cx="370.38" cy="386.46" rx="3.02" ry="2.06" fill="#d88175" opacity="0.8"/>
<ellipse cx="371.76" cy="393.33" rx="3.47" ry="2.06" fill="#d88175" opacity="0.8"/>
<ellipse cx="369.28" cy="387.68" rx="3.4" ry="1.92" fill="#d88175" opacity="0.8"/>
<ellipse cx="371.18" cy="387.55" rx="2.3" ry="1.88" fill="#8a1e2e" opacity="0.5"/>
<ellipse cx="370.46" cy="390.68" rx="2.3" ry="1.88" fill="#8a1e2e" opacity="0.5"/>
<ellipse cx="404.4" cy="389.5" rx="4.79" ry="4.6" fill="#d47d73" opacity="0.55"/>
<ellipse cx="407.57" cy="392.12" rx="3.06" ry="2.18" fill="#d47d73" opacity="0.8"/>
<ellipse cx="402.64" cy="390.81" rx="3.18" ry="1.86" fill="#d47d73" opacity="0.8"/>
<ellipse cx="401.36" cy="392.31" rx="2.1" ry="2.8" fill="#d47d73" opacity="0.8"/>
<ellipse cx="402.63" cy="390.24" rx="3.26" ry="2.7" fill="#d47d73" opacity="0.8"/>
<ellipse cx="403.64" cy="388.19" rx="2.17" ry="1.84" fill="#8a1e2e" opacity="0.5"/>
<ellipse cx="405.25" cy="390.44" rx="2.17" ry="1.84" fill="#8a1e2e" opacity="0.5"/>
<ellipse cx="430.5" cy="391.6" rx="4.4" ry="4.2" fill="#d0746b" opacity="0.55"/>
<ellipse cx="432.82" cy="390.04" rx="2.9" ry="2.96" fill="#d0746b" opacity="0.8"/>
<ellipse cx="428.75" cy="393.21" rx="2.24" ry="1.9" fill="#d0746b" opacity="0.8"/>
<ellipse cx="429.01" cy="393.08" rx="1.97" ry="2.57" fill="#d0746b" opacity="0.8"/>
<ellipse cx="429.03" cy="388.68" rx="2.38" ry="2.2" fill="#d0746b" opacity="0.8"/>
<ellipse cx="430.25" cy="394.16" rx="2" ry="1.68" fill="#8a1e2e" opacity="0.5"/>
<ellipse cx="433.19" cy="389.77" rx="2" ry="1.68" fill="#8a1e2e" opacity="0.5"/>
<ellipse cx="453.5" cy="392.2" rx="5.06" ry="3.5" fill="#cb6a63" opacity="0.55"/>
<ellipse cx="454.78" cy="394.38" rx="2.05" ry="2.46" fill="#cb6a63" opacity="0.8"/>
<ellipse cx="455.7" cy="389.06" rx="3.36" ry="2.3" fill="#cb6a63" opacity="0.8"/>
<ellipse cx="450.45" cy="394.82" rx="2.63" ry="1.9" fill="#cb6a63" opacity="0.8"/>
<ellipse cx="454.31" cy="393.05" rx="3.26" ry="1.71" fill="#cb6a63" opacity="0.8"/>
<ellipse cx="453.38" cy="390.17" rx="2.3" ry="1.4" fill="#8a1e2e" opacity="0.5"/>
<ellipse cx="451.84" cy="392.15" rx="2.3" ry="1.4" fill="#8a1e2e" opacity="0.5"/>
<ellipse cx="279.9" cy="422.2" rx="6.88" ry="4.15" fill="#cb665f" opacity="0.55"/>
<ellipse cx="276.42" cy="422.39" rx="4.94" ry="2.53" fill="#cb665f" opacity="0.8"/>
<ellipse cx="279.08" cy="420.36" rx="3.06" ry="2.99" fill="#cb665f" opacity="0.8"/>
<ellipse cx="282.14" cy="419.92" rx="4.09" ry="2.6" fill="#cb665f" opacity="0.8"/>
<ellipse cx="283.85" cy="420.14" rx="3.46" ry="1.91" fill="#cb665f" opacity="0.8"/>
<ellipse cx="280.8" cy="425" rx="3.12" ry="1.66" fill="#8a1e2e" opacity="0.5"/>
<ellipse cx="282.25" cy="419.81" rx="3.12" ry="1.66" fill="#8a1e2e" opacity="0.5"/>
<ellipse cx="306.2" cy="416.5" rx="3.41" ry="3.4" fill="#e08974" opacity="0.55"/>
<ellipse cx="303.83" cy="418.09" rx="2.35" ry="1.78" fill="#e08974" opacity="0.8"/>
<ellipse cx="304.64" cy="414.3" rx="1.45" ry="1.59" fill="#e08974" opacity="0.8"/>
<ellipse cx="304.23" cy="418.33" rx="1.58" ry="1.57" fill="#e08974" opacity="0.8"/>
<ellipse cx="308.28" cy="418.71" rx="1.48" ry="1.71" fill="#e08974" opacity="0.8"/>
<ellipse cx="308.62" cy="415.9" rx="1.55" ry="1.36" fill="#8a1e2e" opacity="0.5"/>
<ellipse cx="306.83" cy="417.54" rx="1.55" ry="1.36" fill="#8a1e2e" opacity="0.5"/>
<ellipse cx="329" cy="423.6" rx="4.12" ry="3.75" fill="#c7605b" opacity="0.55"/>
<ellipse cx="327.14" cy="422.95" rx="2.39" ry="1.62" fill="#c7605b" opacity="0.8"/>
<ellipse cx="328.64" cy="426.31" rx="2.41" ry="2.12" fill="#c7605b" opacity="0.8"/>
<ellipse cx="330.58" cy="422.89" rx="2.02" ry="2.51" fill="#c7605b" opacity="0.8"/>
<ellipse cx="326.38" cy="425.85" rx="2.84" ry="2.16" fill="#c7605b" opacity="0.8"/>
<ellipse cx="329.1" cy="420.99" rx="1.88" ry="1.5" fill="#8a1e2e" opacity="0.5"/>
<ellipse cx="327.04" cy="425.23" rx="1.88" ry="1.5" fill="#8a1e2e" opacity="0.5"/>
<ellipse cx="349" cy="421.2" rx="3.52" ry="3.5" fill="#d98575" opacity="0.55"/>
<ellipse cx="351.18" cy="420.14" rx="2.35" ry="1.68" fill="#d98575" opacity="0.8"/>
<ellipse cx="348.58" cy="419.42" rx="2.03" ry="1.48" fill="#d98575" opacity="0.8"/>
<ellipse cx="348.2" cy="419.69" rx="1.45" ry="2.31" fill="#d98575" opacity="0.8"/>
<ellipse cx="351.06" cy="418.65" rx="2.14" ry="1.99" fill="#d98575" opacity="0.8"/>
<ellipse cx="348.62" cy="421.7" rx="1.6" ry="1.4" fill="#8a1e2e" opacity="0.5"/>
<ellipse cx="349.83" cy="419.95" rx="1.6" ry="1.4" fill="#8a1e2e" opacity="0.5"/>
<ellipse cx="370" cy="421.4" rx="4.02" ry="3.8" fill="#d0746b" opacity="0.55"/>
<ellipse cx="371.78" cy="419.06" rx="2.84" ry="2.12" fill="#d0746b" opacity="0.8"/>
<ellipse cx="368.96" cy="421.82" rx="1.83" ry="1.76" fill="#d0746b" opacity="0.8"/>
<ellipse cx="369.12" cy="419.17" rx="2.49" ry="2.03" fill="#d0746b" opacity="0.8"/>
<ellipse cx="368.87" cy="419.5" rx="1.9" ry="2.39" fill="#d0746b" opacity="0.8"/>
<ellipse cx="372.35" cy="420.49" rx="1.82" ry="1.52" fill="#8a1e2e" opacity="0.5"/>
<ellipse cx="371.78" cy="420.26" rx="1.82" ry="1.52" fill="#8a1e2e" opacity="0.5"/>
<ellipse cx="390.8" cy="422.2" rx="3.63" ry="3.1" fill="#cb665f" opacity="0.55"/>
<ellipse cx="390.36" cy="422.82" rx="2.19" ry="1.93" fill="#cb665f" opacity="0.8"/>
<ellipse cx="392.86" cy="423.3" rx="1.65" ry="1.46" fill="#cb665f" opacity="0.8"/>
<ellipse cx="390.2" cy="421.28" rx="2.6" ry="1.96" fill="#cb665f" opacity="0.8"/>
<ellipse cx="390.28" cy="421.06" rx="1.72" ry="1.84" fill="#cb665f" opacity="0.8"/>
<ellipse cx="393.04" cy="420.55" rx="1.65" ry="1.24" fill="#8a1e2e" opacity="0.5"/>
<ellipse cx="390.55" cy="421.43" rx="1.65" ry="1.24" fill="#8a1e2e" opacity="0.5"/>
<ellipse cx="409.6" cy="422.5" rx="3.35" ry="3.45" fill="#dd8978" opacity="0.55"/>
<ellipse cx="406.72" cy="424.44" rx="2.13" ry="1.4" fill="#dd8978" opacity="0.8"/>
<ellipse cx="409.57" cy="420.53" rx="2.31" ry="2.32" fill="#dd8978" opacity="0.8"/>
<ellipse cx="408.21" cy="422.77" rx="1.89" ry="1.69" fill="#dd8978" opacity="0.8"/>
<ellipse cx="408.93" cy="421.5" rx="1.86" ry="2.43" fill="#dd8978" opacity="0.8"/>
<ellipse cx="410.73" cy="419.95" rx="1.52" ry="1.38" fill="#8a1e2e" opacity="0.5"/>
<ellipse cx="408.88" cy="425.08" rx="1.52" ry="1.38" fill="#8a1e2e" opacity="0.5"/>
<ellipse cx="427.2" cy="423.9" rx="2.86" ry="3.05" fill="#d47d73" opacity="0.55"/>
<ellipse cx="425.73" cy="421.39" rx="1.77" ry="1.46" fill="#d47d73" opacity="0.8"/>
<ellipse cx="427.52" cy="421.69" rx="2.06" ry="1.88" fill="#d47d73" opacity="0.8"/>
<ellipse cx="425.98" cy="421.2" rx="1.93" ry="2.1" fill="#d47d73" opacity="0.8"/>
<ellipse cx="426.18" cy="421.43" rx="2.06" ry="2.09" fill="#d47d73" opacity="0.8"/>
<ellipse cx="427.04" cy="422" rx="1.3" ry="1.22" fill="#8a1e2e" opacity="0.5"/>
<ellipse cx="428.25" cy="426.2" rx="1.3" ry="1.22" fill="#8a1e2e" opacity="0.5"/>
</g>
<g filter="url(#blur05)" fill="#eeb0b4" opacity="0.7">
<ellipse cx="271.82" cy="386.14" rx="1.51" ry="1.21"/>
<ellipse cx="307.39" cy="386.45" rx="1.51" ry="1.12"/>
<ellipse cx="343.96" cy="392.76" rx="1.2" ry="1.03"/>
<ellipse cx="370.1" cy="393.37" rx="1.29" ry="1.03"/>
<ellipse cx="403.34" cy="388.13" rx="1.22" ry="1.01"/>
<ellipse cx="429.73" cy="393.57" rx="1.12" ry="0.92"/>
<ellipse cx="449.88" cy="392.08" rx="1.29" ry="0.77"/>
<ellipse cx="279.33" cy="423.87" rx="1.75" ry="0.91"/>
<ellipse cx="304.93" cy="418.32" rx="0.87" ry="0.75"/>
<ellipse cx="328.92" cy="422.21" rx="1.05" ry="0.82"/>
<ellipse cx="348.16" cy="422.66" rx="0.9" ry="0.77"/>
<ellipse cx="369.97" cy="423.26" rx="1.02" ry="0.84"/>
<ellipse cx="389.99" cy="424.61" rx="0.92" ry="0.68"/>
<ellipse cx="407.81" cy="422.03" rx="0.85" ry="0.76"/>
<ellipse cx="427" cy="423.98" rx="0.73" ry="0.67"/>
</g>
<rect x="261.2" y="434.6" width="213" height="14.6" fill="#f6f6f6"/>
<rect x="261.2" y="434.6" width="213" height="6.6" fill="#cfd0d0"/>
<rect x="261.2" y="448.2" width="213" height="1" fill="#b0b0b0"/>
<path d="M263 441.2v5M264.75 441.2v2.2M266.49 441.2v2.2M268.24 441.2v2.2M269.98 441.2v2.2M271.73 441.2v3.4M273.47 441.2v2.2M275.22 441.2v2.2M276.96 441.2v2.2M278.71 441.2v2.2M280.45 441.2v5M282.2 441.2v2.2M283.94 441.2v2.2M285.69 441.2v2.2M287.43 441.2v2.2M289.18 441.2v3.4M290.92 441.2v2.2M292.67 441.2v2.2M294.41 441.2v2.2M296.16 441.2v2.2M297.9 441.2v5M299.65 441.2v2.2M301.39 441.2v2.2M303.14 441.2v2.2M304.88 441.2v2.2M306.63 441.2v3.4M308.37 441.2v2.2M310.12 441.2v2.2M311.86 441.2v2.2M313.61 441.2v2.2M315.35 441.2v5M317.1 441.2v2.2M318.84 441.2v2.2M320.59 441.2v2.2M322.33 441.2v2.2M324.08 441.2v3.4M325.82 441.2v2.2M327.57 441.2v2.2M329.31 441.2v2.2M331.06 441.2v2.2M332.8 441.2v5M334.55 441.2v2.2M336.29 441.2v2.2M338.04 441.2v2.2M339.78 441.2v2.2M341.53 441.2v3.4M343.27 441.2v2.2M345.02 441.2v2.2M346.76 441.2v2.2M348.51 441.2v2.2M350.25 441.2v5M352 441.2v2.2M353.74 441.2v2.2M355.49 441.2v2.2M357.23 441.2v2.2M358.98 441.2v3.4M360.72 441.2v2.2M362.47 441.2v2.2M364.21 441.2v2.2M365.96 441.2v2.2M367.7 441.2v5M369.45 441.2v2.2M371.19 441.2v2.2M372.94 441.2v2.2M374.68 441.2v2.2M376.43 441.2v3.4M378.17 441.2v2.2M379.92 441.2v2.2M381.66 441.2v2.2M383.41 441.2v2.2M385.15 441.2v5M386.9 441.2v2.2M388.64 441.2v2.2M390.39 441.2v2.2M392.13 441.2v2.2M393.88 441.2v3.4M395.62 441.2v2.2M397.37 441.2v2.2M399.11 441.2v2.2M400.86 441.2v2.2M402.6 441.2v5M404.35 441.2v2.2M406.09 441.2v2.2M407.84 441.2v2.2M409.58 441.2v2.2M411.33 441.2v3.4M413.07 441.2v2.2M414.82 441.2v2.2M416.56 441.2v2.2M418.31 441.2v2.2M420.05 441.2v5M421.8 441.2v2.2M423.54 441.2v2.2M425.29 441.2v2.2M427.03 441.2v2.2M428.78 441.2v3.4M430.52 441.2v2.2M432.27 441.2v2.2M434.01 441.2v2.2M435.76 441.2v2.2M437.5 441.2v5M439.25 441.2v2.2M440.99 441.2v2.2M442.74 441.2v2.2M444.48 441.2v2.2M446.23 441.2v3.4M447.97 441.2v2.2M449.72 441.2v2.2M451.46 441.2v2.2M453.21 441.2v2.2M454.95 441.2v5M456.7 441.2v2.2M458.44 441.2v2.2M460.19 441.2v2.2M461.93 441.2v2.2M463.68 441.2v3.4M465.42 441.2v2.2M467.17 441.2v2.2M468.91 441.2v2.2M470.66 441.2v2.2M472.4 441.2v5" stroke="#3a3a3a" stroke-width="0.6"/>
<path d="M263 436.0v3.6M263.87 436.0v3.6M264.75 436.0v3.6M265.62 436.0v3.6M266.49 436.0v3.6M267.36 436.0v3.6M268.24 436.0v3.6M269.11 436.0v3.6M269.98 436.0v3.6M270.85 436.0v3.6M271.73 436.0v3.6M272.6 436.0v3.6M273.47 436.0v3.6M274.34 436.0v3.6M275.22 436.0v3.6M276.09 436.0v3.6M276.96 436.0v3.6M277.83 436.0v3.6M278.71 436.0v3.6M279.58 436.0v3.6M280.45 436.0v3.6M281.32 436.0v3.6M282.2 436.0v3.6M283.07 436.0v3.6M283.94 436.0v3.6M284.81 436.0v3.6M285.69 436.0v3.6M286.56 436.0v3.6M287.43 436.0v3.6M288.3 436.0v3.6M289.18 436.0v3.6M290.05 436.0v3.6M290.92 436.0v3.6M291.79 436.0v3.6M292.67 436.0v3.6M293.54 436.0v3.6M294.41 436.0v3.6M295.28 436.0v3.6M296.16 436.0v3.6M297.03 436.0v3.6M297.9 436.0v3.6M298.77 436.0v3.6M299.65 436.0v3.6M300.52 436.0v3.6M301.39 436.0v3.6M302.26 436.0v3.6M303.14 436.0v3.6M304.01 436.0v3.6M304.88 436.0v3.6M305.75 436.0v3.6M306.63 436.0v3.6M307.5 436.0v3.6M308.37 436.0v3.6M309.24 436.0v3.6M310.12 436.0v3.6M310.99 436.0v3.6M311.86 436.0v3.6M312.73 436.0v3.6M313.61 436.0v3.6M314.48 436.0v3.6M315.35 436.0v3.6M316.22 436.0v3.6M317.1 436.0v3.6M317.97 436.0v3.6M318.84 436.0v3.6M319.71 436.0v3.6M320.59 436.0v3.6M321.46 436.0v3.6M322.33 436.0v3.6M323.2 436.0v3.6M324.08 436.0v3.6M324.95 436.0v3.6M325.82 436.0v3.6M326.69 436.0v3.6M327.57 436.0v3.6M328.44 436.0v3.6M329.31 436.0v3.6M330.18 436.0v3.6M331.06 436.0v3.6M331.93 436.0v3.6M332.8 436.0v3.6M333.67 436.0v3.6M334.55 436.0v3.6M335.42 436.0v3.6M336.29 436.0v3.6M337.16 436.0v3.6M338.04 436.0v3.6M338.91 436.0v3.6M339.78 436.0v3.6M340.65 436.0v3.6M341.53 436.0v3.6M342.4 436.0v3.6M343.27 436.0v3.6M344.14 436.0v3.6M345.02 436.0v3.6M345.89 436.0v3.6M346.76 436.0v3.6M347.63 436.0v3.6M348.51 436.0v3.6M349.38 436.0v3.6M350.25 436.0v3.6M351.12 436.0v3.6M352 436.0v3.6M352.87 436.0v3.6M353.74 436.0v3.6M354.61 436.0v3.6M355.49 436.0v3.6M356.36 436.0v3.6M357.23 436.0v3.6M358.1 436.0v3.6M358.98 436.0v3.6M359.85 436.0v3.6M360.72 436.0v3.6M361.59 436.0v3.6M362.47 436.0v3.6M363.34 436.0v3.6M364.21 436.0v3.6M365.08 436.0v3.6M365.96 436.0v3.6M366.83 436.0v3.6M367.7 436.0v3.6M368.57 436.0v3.6M369.45 436.0v3.6M370.32 436.0v3.6M371.19 436.0v3.6M372.06 436.0v3.6M372.94 436.0v3.6M373.81 436.0v3.6M374.68 436.0v3.6M375.55 436.0v3.6M376.43 436.0v3.6M377.3 436.0v3.6M378.17 436.0v3.6M379.04 436.0v3.6M379.92 436.0v3.6M380.79 436.0v3.6M381.66 436.0v3.6M382.53 436.0v3.6M383.41 436.0v3.6M384.28 436.0v3.6M385.15 436.0v3.6M386.02 436.0v3.6M386.9 436.0v3.6M387.77 436.0v3.6M388.64 436.0v3.6M389.51 436.0v3.6M390.39 436.0v3.6M391.26 436.0v3.6M392.13 436.0v3.6M393 436.0v3.6M393.88 436.0v3.6M394.75 436.0v3.6M395.62 436.0v3.6M396.49 436.0v3.6M397.37 436.0v3.6M398.24 436.0v3.6M399.11 436.0v3.6M399.98 436.0v3.6M400.86 436.0v3.6M401.73 436.0v3.6M402.6 436.0v3.6M403.47 436.0v3.6M404.35 436.0v3.6M405.22 436.0v3.6M406.09 436.0v3.6M406.96 436.0v3.6M407.84 436.0v3.6M408.71 436.0v3.6M409.58 436.0v3.6M410.45 436.0v3.6M411.33 436.0v3.6M412.2 436.0v3.6M413.07 436.0v3.6M413.94 436.0v3.6M414.82 436.0v3.6M415.69 436.0v3.6M416.56 436.0v3.6M417.43 436.0v3.6M418.31 436.0v3.6M419.18 436.0v3.6M420.05 436.0v3.6M420.92 436.0v3.6M421.8 436.0v3.6M422.67 436.0v3.6M423.54 436.0v3.6M424.41 436.0v3.6M425.29 436.0v3.6M426.16 436.0v3.6M427.03 436.0v3.6M427.9 436.0v3.6M428.78 436.0v3.6M429.65 436.0v3.6M430.52 436.0v3.6M431.39 436.0v3.6M432.27 436.0v3.6M433.14 436.0v3.6M434.01 436.0v3.6M434.88 436.0v3.6M435.76 436.0v3.6M436.63 436.0v3.6M437.5 436.0v3.6M438.37 436.0v3.6M439.25 436.0v3.6M440.12 436.0v3.6M440.99 436.0v3.6M441.86 436.0v3.6M442.74 436.0v3.6M443.61 436.0v3.6M444.48 436.0v3.6M445.35 436.0v3.6M446.23 436.0v3.6M447.1 436.0v3.6M447.97 436.0v3.6M448.84 436.0v3.6M449.72 436.0v3.6M450.59 436.0v3.6M451.46 436.0v3.6M452.33 436.0v3.6M453.21 436.0v3.6M454.08 436.0v3.6M454.95 436.0v3.6M455.82 436.0v3.6M456.7 436.0v3.6M457.57 436.0v3.6M458.44 436.0v3.6M459.31 436.0v3.6M460.19 436.0v3.6M461.06 436.0v3.6M461.93 436.0v3.6M462.8 436.0v3.6M463.68 436.0v3.6M464.55 436.0v3.6M465.42 436.0v3.6M466.29 436.0v3.6M467.17 436.0v3.6M468.04 436.0v3.6M468.91 436.0v3.6M469.78 436.0v3.6M470.66 436.0v3.6M471.53 436.0v3.6M472.4 436.0v3.6M473.27 436.0v3.6" stroke="#a8a8a8" stroke-width="0.35"/>
<line x1="261.2" y1="434.6" x2="261.2" y2="449.2" stroke="#666" stroke-width="1"/>
<text x="262" y="447.4" font-size="3.6" fill="#222">CM</text>
</g>
<text x="476.2" y="388.8" font-size="11.5">Vector</text>
<text x="478.5" y="400.8" font-size="11.6">(<tspan font-style="italic">n</tspan><tspan dx="1.5">=</tspan><tspan dx="1.5">7)</tspan></text>
<text x="479.2" y="428.8" font-size="11.5" font-style="italic">NXTAR</text>
<text x="478.5" y="441.1" font-size="11.6">(<tspan font-style="italic">n</tspan><tspan dx="1.5">=</tspan><tspan dx="1.5">8)</tspan></text>
<text x="372" y="467.3" font-size="11.8" text-anchor="middle">VCaP tumor Xenografts</text>
<text x="6.7" y="510.8" font-size="17" font-weight="bold" fill="#000">H</text>
<line x1="67.3" y1="522.5" x2="67.3" y2="617" stroke="#1a1a1a" stroke-width="1.3"/>
<line x1="62.3" y1="522.5" x2="67.95" y2="522.5" stroke="#1a1a1a" stroke-width="1.3"/>
<text x="60.2" y="526.6" font-size="11.4" text-anchor="end">1,200</text>
<line x1="62.3" y1="554" x2="67.95" y2="554" stroke="#1a1a1a" stroke-width="1.3"/>
<text x="60.2" y="558.1" font-size="11.4" text-anchor="end">800</text>
<line x1="62.3" y1="585.5" x2="67.95" y2="585.5" stroke="#1a1a1a" stroke-width="1.3"/>
<text x="60.2" y="589.6" font-size="11.4" text-anchor="end">400</text>
<line x1="62.3" y1="617" x2="67.95" y2="617" stroke="#1a1a1a" stroke-width="1.3"/>
<text x="60.2" y="621.1" font-size="11.4" text-anchor="end">0</text>
<line x1="67.3" y1="617" x2="149.9" y2="617" stroke="#1a1a1a" stroke-width="1.3"/>
<line x1="90.9" y1="617" x2="90.9" y2="620.5" stroke="#1a1a1a" stroke-width="1.3"/>
<line x1="126.9" y1="617" x2="126.9" y2="620.5" stroke="#1a1a1a" stroke-width="1.3"/>
<text x="0" y="0" font-size="11.7" text-anchor="middle" transform="translate(25 567) rotate(-90)">Tumor weight (mg)</text>
<rect x="79.2" y="575.5" width="23.2" height="41.5" fill="none" stroke="#2c4a9e" stroke-width="2.1"/>
<rect x="115.2" y="601.3" width="23" height="15.7" fill="none" stroke="#e3212b" stroke-width="2.1"/>
<line x1="91" y1="567.5" x2="91" y2="580.9" stroke="#2c4a9e" stroke-width="1.5"/>
<line x1="85.2" y1="567.5" x2="96.8" y2="567.5" stroke="#2c4a9e" stroke-width="1.5"/>
<line x1="85.2" y1="580.9" x2="96.8" y2="580.9" stroke="#2c4a9e" stroke-width="1.5"/>
<line x1="126.4" y1="595.9" x2="126.4" y2="603.5" stroke="#e3212b" stroke-width="1.5"/>
<line x1="121" y1="595.9" x2="131.8" y2="595.9" stroke="#e3212b" stroke-width="1.5"/>
<line x1="121" y1="603.5" x2="131.8" y2="603.5" stroke="#e3212b" stroke-width="1.5"/>
<rect x="89.8" y="539.5" width="2.4" height="3" fill="#2c4a9e"/>
<rect x="89.8" y="558.4" width="2.4" height="3" fill="#2c4a9e"/>
<rect x="89.8" y="574.4" width="2.4" height="3" fill="#2c4a9e"/>
<rect x="87.8" y="590" width="2.4" height="3" fill="#2c4a9e"/>
<rect x="92.8" y="588.8" width="2.4" height="3" fill="#2c4a9e"/>
<rect x="91.3" y="576" width="2.4" height="3" fill="#2c4a9e"/>
<rect x="88.3" y="573" width="2.4" height="3" fill="#2c4a9e"/>
<rect x="125.7" y="572.8" width="2.4" height="3" fill="#e3212b"/>
<rect x="125.7" y="590.4" width="2.4" height="3" fill="#e3212b"/>
<rect x="120.7" y="601.4" width="2.4" height="3" fill="#e3212b"/>
<rect x="127.7" y="602" width="2.4" height="3" fill="#e3212b"/>
<rect x="121.7" y="607.3" width="2.4" height="3" fill="#e3212b"/>
<rect x="128.7" y="606.3" width="2.4" height="3" fill="#e3212b"/>
<rect x="124.8" y="604" width="2.4" height="3" fill="#e3212b"/>
<rect x="130.3" y="601.5" width="2.4" height="3" fill="#e3212b"/>
<polyline points="90.4,534 90.4,526.4 126.3,526.4 126.3,565.9" fill="none" stroke="#222" stroke-width="1.3"/>
<path d="M101.8 521.8L107.2 521.8M103.15 519.46L105.85 524.14M105.85 519.46L103.15 524.14" stroke="#4a4a4a" stroke-width="1.3" stroke-linecap="round"/>
<path d="M110 521.8L115.4 521.8M111.35 519.46L114.05 524.14M114.05 519.46L111.35 524.14" stroke="#4a4a4a" stroke-width="1.3" stroke-linecap="round"/>
<text x="87.2" y="632.7" font-size="11.7" text-anchor="middle">Vector</text>
<text x="130.2" y="632.7" font-size="11.7" text-anchor="middle" font-style="italic">NXTAR</text>
<text x="87.6" y="646.8" font-size="11.6" text-anchor="middle">(<tspan font-style="italic">n</tspan><tspan dx="1.5">=</tspan><tspan dx="1.5">7)</tspan></text>
<text x="133.2" y="646.8" font-size="11.6" text-anchor="middle">(<tspan font-style="italic">n</tspan><tspan dx="1.5">=</tspan><tspan dx="1.5">8)</tspan></text>
<text x="162.5" y="510.1" font-size="17" font-weight="bold" fill="#000">I</text>
<line x1="217" y1="533.7" x2="217" y2="615.3" stroke="#1a1a1a" stroke-width="1.3"/>
<line x1="212" y1="533.7" x2="217.65" y2="533.7" stroke="#1a1a1a" stroke-width="1.3"/>
<text x="209.9" y="537.8" font-size="11.4" text-anchor="end">2,000</text>
<line x1="212" y1="554.1" x2="217.65" y2="554.1" stroke="#1a1a1a" stroke-width="1.3"/>
<text x="209.9" y="558.2" font-size="11.4" text-anchor="end">1,500</text>
<line x1="212" y1="574.5" x2="217.65" y2="574.5" stroke="#1a1a1a" stroke-width="1.3"/>
<text x="209.9" y="578.6" font-size="11.4" text-anchor="end">1,000</text>
<line x1="212" y1="594.9" x2="217.65" y2="594.9" stroke="#1a1a1a" stroke-width="1.3"/>
<text x="209.9" y="599" font-size="11.4" text-anchor="end">500</text>
<line x1="212" y1="615.3" x2="217.65" y2="615.3" stroke="#1a1a1a" stroke-width="1.3"/>
<text x="209.9" y="619.4" font-size="11.4" text-anchor="end">0</text>
<line x1="217" y1="615.3" x2="295.8" y2="615.3" stroke="#1a1a1a" stroke-width="1.3"/>
<line x1="241.3" y1="615.3" x2="241.3" y2="618.8" stroke="#1a1a1a" stroke-width="1.3"/>
<line x1="277" y1="615.3" x2="277" y2="618.8" stroke="#1a1a1a" stroke-width="1.3"/>
<text x="0" y="0" font-size="11.7" text-anchor="middle" transform="translate(175.2 572) rotate(-90)">Tumor volume (mm<tspan dy="-5.3" font-size="7.8">3</tspan><tspan dy="5.3">)</tspan></text>
<rect x="230" y="570.6" width="22.6" height="44.7" fill="none" stroke="#2c4a9e" stroke-width="2"/>
<rect x="265.5" y="595" width="23.1" height="20.3" fill="none" stroke="#e3212b" stroke-width="2"/>
<line x1="241.3" y1="562.6" x2="241.3" y2="575.4" stroke="#2c4a9e" stroke-width="1.5"/>
<line x1="235.5" y1="562.6" x2="247.1" y2="562.6" stroke="#2c4a9e" stroke-width="1.5"/>
<line x1="235.5" y1="575.4" x2="247.1" y2="575.4" stroke="#2c4a9e" stroke-width="1.5"/>
<line x1="277" y1="585.4" x2="277" y2="600.2" stroke="#e3212b" stroke-width="1.5"/>
<line x1="271.5" y1="585.4" x2="282.4" y2="585.4" stroke="#e3212b" stroke-width="1.5"/>
<line x1="271.5" y1="600.2" x2="282.4" y2="600.2" stroke="#e3212b" stroke-width="1.5"/>
<rect x="239.7" y="541.4" width="2.4" height="3" fill="#2c4a9e"/>
<rect x="239.7" y="553.7" width="2.4" height="3" fill="#2c4a9e"/>
<rect x="237.8" y="575.1" width="2.4" height="3" fill="#2c4a9e"/>
<rect x="242.4" y="579.2" width="2.4" height="3" fill="#2c4a9e"/>
<rect x="239.7" y="592.5" width="2.4" height="3" fill="#2c4a9e"/>
<rect x="240.3" y="571.5" width="2.4" height="3" fill="#2c4a9e"/>
<rect x="237.3" y="572.5" width="2.4" height="3" fill="#2c4a9e"/>
<rect x="276.1" y="547.7" width="2.4" height="3" fill="#e3212b"/>
<rect x="276.1" y="562.3" width="2.4" height="3" fill="#e3212b"/>
<rect x="271" y="600.1" width="2.4" height="3" fill="#e3212b"/>
<rect x="276.1" y="600.6" width="2.4" height="3" fill="#e3212b"/>
<rect x="279.6" y="606.4" width="2.4" height="3" fill="#e3212b"/>
<rect x="271.4" y="609.9" width="2.4" height="3" fill="#e3212b"/>
<rect x="278.8" y="609.5" width="2.4" height="3" fill="#e3212b"/>
<rect x="275.8" y="596" width="2.4" height="3" fill="#e3212b"/>
<polyline points="239.7,536 239.7,528.3 276.1,528.3 276.1,539.4" fill="none" stroke="#222" stroke-width="1.3"/>
<path d="M255.6 523.6L261 523.6M256.95 521.26L259.65 525.94M259.65 521.26L256.95 525.94" stroke="#4a4a4a" stroke-width="1.3" stroke-linecap="round"/>
<text x="239.9" y="630.2" font-size="11.7" text-anchor="middle">Vector</text>
<text x="280.6" y="630.2" font-size="11.7" text-anchor="middle" font-style="italic">NXTAR</text>
<text x="238.4" y="644.4" font-size="11.6" text-anchor="middle">(<tspan font-style="italic">n</tspan><tspan dx="1.5">=</tspan><tspan dx="1.5">7)</tspan></text>
<text x="284.3" y="644.4" font-size="11.6" text-anchor="middle">(<tspan font-style="italic">n</tspan><tspan dx="1.5">=</tspan><tspan dx="1.5">8)</tspan></text>
<text x="318.3" y="510.4" font-size="17" font-weight="bold" fill="#000">J</text>
<text x="375.8" y="532.8" font-size="11.6" text-anchor="middle">Vector</text>
<text x="445.8" y="531.4" font-size="11.6" text-anchor="middle">NXTAR</text>
<line x1="337.6" y1="535.4" x2="408" y2="535.4" stroke="#333" stroke-width="1.1"/>
<line x1="414" y1="535.8" x2="483.1" y2="535.8" stroke="#333" stroke-width="1.1"/>
<defs><linearGradient id="arbg" x1="0" x2="0" y1="0" y2="1"><stop offset="0" stop-color="#dadada"/><stop offset="0.25" stop-color="#e8e8e8"/><stop offset="0.6" stop-color="#eeeeee"/><stop offset="1" stop-color="#f3f3f3"/></linearGradient><linearGradient id="bandg" x1="0" x2="0" y1="0" y2="1"><stop offset="0" stop-color="#000" stop-opacity="0.25"/><stop offset="0.25" stop-color="#000" stop-opacity="1"/><stop offset="0.6" stop-color="#000" stop-opacity="0.9"/><stop offset="1" stop-color="#000" stop-opacity="0.15"/></linearGradient><filter id="bblur" x="-20%" y="-50%" width="140%" height="200%"><feGaussianBlur stdDeviation="0.7"/></filter></defs>
<rect x="333.8" y="542.3" width="156.8" height="30.2" fill="url(#arbg)" stroke="#2e2e2e" stroke-width="1.2"/>
<g filter="url(#bblur)">
<rect x="337.4" y="554.4" width="20.8" height="7.8" rx="1.5" fill="url(#bandg)" opacity="0.95"/>
<rect x="337.6" y="555.6" width="2.2" height="6.6" rx="1" fill="#000" opacity="0.57"/>
<rect x="355.8" y="555.6" width="2.2" height="6.6" rx="1" fill="#000" opacity="0.57"/>
<rect x="361.2" y="554.4" width="21.6" height="8" rx="1.5" fill="url(#bandg)" opacity="0.95"/>
<rect x="361.4" y="555.6" width="2.2" height="6.8" rx="1" fill="#000" opacity="0.57"/>
<rect x="380.4" y="555.6" width="2.2" height="6.8" rx="1" fill="#000" opacity="0.57"/>
<rect x="387" y="554.6" width="21.2" height="7" rx="1.5" fill="url(#bandg)" opacity="0.88"/>
<rect x="387.2" y="555.8" width="2.2" height="5.8" rx="1" fill="#000" opacity="0.53"/>
<rect x="405.8" y="555.8" width="2.2" height="5.8" rx="1" fill="#000" opacity="0.53"/>
<rect x="412.1" y="554.8" width="20.7" height="5.6" rx="1.5" fill="url(#bandg)" opacity="0.72"/>
<rect x="412.3" y="556" width="2.2" height="4.4" rx="1" fill="#000" opacity="0.43"/>
<rect x="430.4" y="556" width="2.2" height="4.4" rx="1" fill="#000" opacity="0.43"/>
<rect x="437.8" y="554.6" width="19.8" height="6.4" rx="1.5" fill="url(#bandg)" opacity="0.16"/>
<rect x="438" y="555.8" width="2.2" height="5.2" rx="1" fill="#000" opacity="0.1"/>
<rect x="455.2" y="555.8" width="2.2" height="5.2" rx="1" fill="#000" opacity="0.1"/>
<rect x="462.5" y="554" width="21.5" height="7.8" rx="1.5" fill="url(#bandg)" opacity="0.46"/>
<rect x="462.7" y="555.2" width="2.2" height="6.6" rx="1" fill="#000" opacity="0.28"/>
<rect x="481.6" y="555.2" width="2.2" height="6.6" rx="1" fill="#000" opacity="0.28"/>
</g>
<text x="494.4" y="562.4" font-size="11.6">AR</text>
<text x="347.2" y="581.6" font-size="10.5" text-anchor="middle">1.18</text>
<text x="372" y="581.6" font-size="10.5" text-anchor="middle">1.71</text>
<text x="398" y="581.6" font-size="10.5" text-anchor="middle">1.60</text>
<text x="423.3" y="581.6" font-size="10.5" text-anchor="middle">0.61</text>
<text x="447.4" y="581.6" font-size="10.5" text-anchor="middle">0.29</text>
<text x="473.1" y="581.6" font-size="10.5" text-anchor="middle">0.52</text>
<rect x="331.7" y="586.5" width="159.3" height="29" fill="#f3f3f3" stroke="#2e2e2e" stroke-width="1.2"/>
<g filter="url(#bblur)">
<rect x="334.7" y="598.9" width="21.8" height="5.7" rx="1.8" fill="url(#bandg)" opacity="1"/>
<rect x="360" y="599.6" width="22" height="4.4" rx="1.8" fill="url(#bandg)" opacity="0.85"/>
<rect x="386.5" y="599.6" width="21.5" height="4.4" rx="1.8" fill="url(#bandg)" opacity="0.85"/>
<rect x="412.3" y="599.8" width="22.7" height="4.8" rx="1.8" fill="url(#bandg)" opacity="0.9"/>
<rect x="439.2" y="599.8" width="20.5" height="4.8" rx="1.8" fill="url(#bandg)" opacity="0.88"/>
<rect x="463" y="598.8" width="20.4" height="6.8" rx="1.8" fill="url(#bandg)" opacity="1"/>
</g>
<text x="493.8" y="605.6" font-size="11.6">Actin</text>
</svg>
</body></html>
